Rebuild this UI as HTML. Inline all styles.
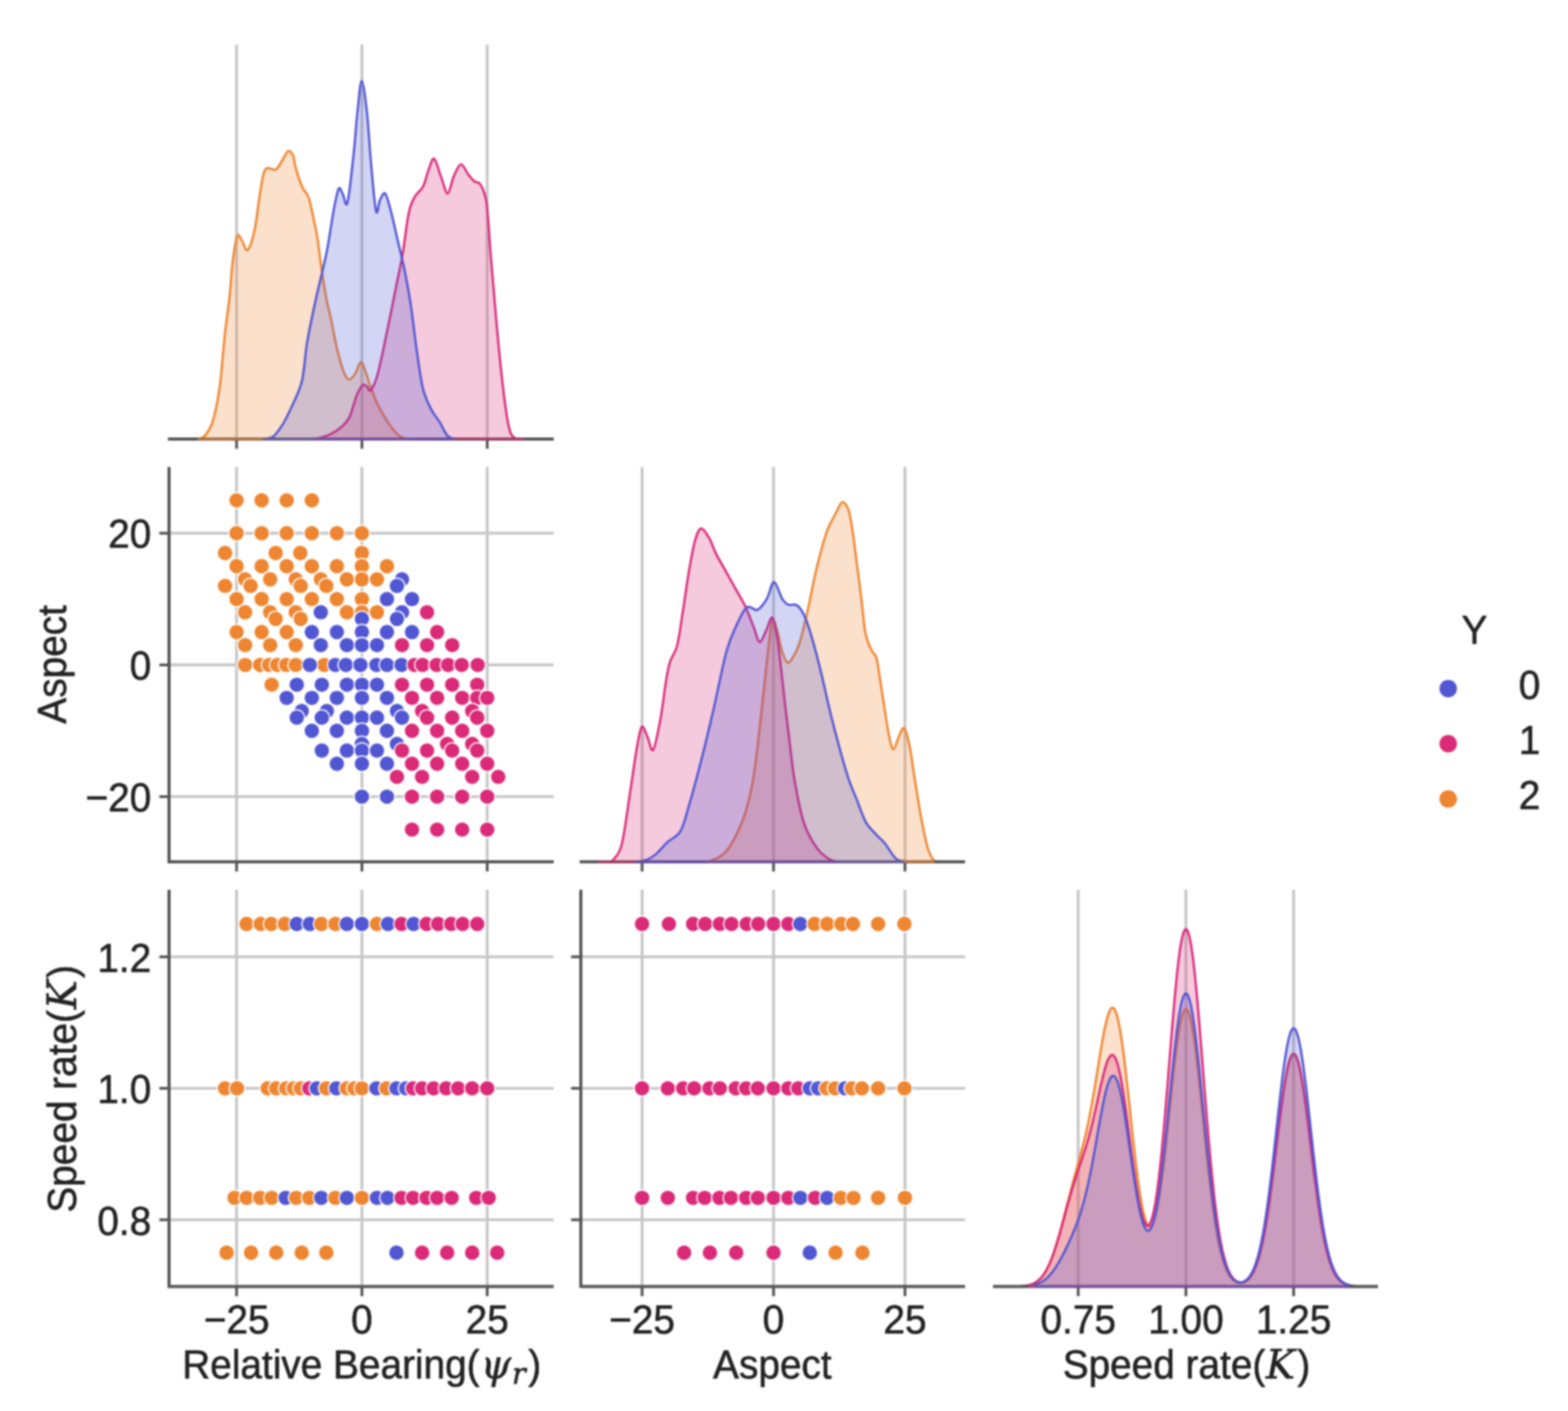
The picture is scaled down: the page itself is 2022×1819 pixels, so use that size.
<!DOCTYPE html>
<html><head><meta charset="utf-8"><title>Pair plot</title>
<style>html,body{margin:0;padding:0;background:#fff;} svg{display:block;filter:blur(1.0px);} text{font-family:'Liberation Sans',Arial,sans-serif;font-size:50px;fill:#222222;stroke:#222222;stroke-width:0.7px;}</style>
</head><body>
<svg width="2022" height="1819" viewBox="0 0 2022 1819">
<rect width="2022" height="1819" fill="#fff"/>
<line x1="305.1" y1="57.5" x2="305.1" y2="566" stroke="#c6c6c6" stroke-width="3.7"/>
<line x1="466.7" y1="57.5" x2="466.7" y2="566" stroke="#c6c6c6" stroke-width="3.7"/>
<line x1="628.3" y1="57.5" x2="628.3" y2="566" stroke="#c6c6c6" stroke-width="3.7"/>
<line x1="305.1" y1="602" x2="305.1" y2="1111" stroke="#c6c6c6" stroke-width="3.7"/>
<line x1="466.7" y1="602" x2="466.7" y2="1111" stroke="#c6c6c6" stroke-width="3.7"/>
<line x1="628.3" y1="602" x2="628.3" y2="1111" stroke="#c6c6c6" stroke-width="3.7"/>
<line x1="305.1" y1="1147" x2="305.1" y2="1658.5" stroke="#c6c6c6" stroke-width="3.7"/>
<line x1="466.7" y1="1147" x2="466.7" y2="1658.5" stroke="#c6c6c6" stroke-width="3.7"/>
<line x1="628.3" y1="1147" x2="628.3" y2="1658.5" stroke="#c6c6c6" stroke-width="3.7"/>
<line x1="828.0" y1="602" x2="828.0" y2="1111" stroke="#c6c6c6" stroke-width="3.7"/>
<line x1="997.5" y1="602" x2="997.5" y2="1111" stroke="#c6c6c6" stroke-width="3.7"/>
<line x1="1167.0" y1="602" x2="1167.0" y2="1111" stroke="#c6c6c6" stroke-width="3.7"/>
<line x1="828.0" y1="1147" x2="828.0" y2="1658.5" stroke="#c6c6c6" stroke-width="3.7"/>
<line x1="997.5" y1="1147" x2="997.5" y2="1658.5" stroke="#c6c6c6" stroke-width="3.7"/>
<line x1="1167.0" y1="1147" x2="1167.0" y2="1658.5" stroke="#c6c6c6" stroke-width="3.7"/>
<line x1="1390.4" y1="1147" x2="1390.4" y2="1658.5" stroke="#c6c6c6" stroke-width="3.7"/>
<line x1="1529.3" y1="1147" x2="1529.3" y2="1658.5" stroke="#c6c6c6" stroke-width="3.7"/>
<line x1="1668.2" y1="1147" x2="1668.2" y2="1658.5" stroke="#c6c6c6" stroke-width="3.7"/>
<line x1="218" y1="687.4" x2="714" y2="687.4" stroke="#c6c6c6" stroke-width="3.7"/>
<line x1="218" y1="857.2" x2="714" y2="857.2" stroke="#c6c6c6" stroke-width="3.7"/>
<line x1="218" y1="1027.0" x2="714" y2="1027.0" stroke="#c6c6c6" stroke-width="3.7"/>
<line x1="218" y1="1233.5" x2="714" y2="1233.5" stroke="#c6c6c6" stroke-width="3.7"/>
<line x1="218" y1="1403.0" x2="714" y2="1403.0" stroke="#c6c6c6" stroke-width="3.7"/>
<line x1="218" y1="1572.5" x2="714" y2="1572.5" stroke="#c6c6c6" stroke-width="3.7"/>
<line x1="749" y1="1233.5" x2="1244.5" y2="1233.5" stroke="#c6c6c6" stroke-width="3.7"/>
<line x1="749" y1="1403.0" x2="1244.5" y2="1403.0" stroke="#c6c6c6" stroke-width="3.7"/>
<line x1="749" y1="1572.5" x2="1244.5" y2="1572.5" stroke="#c6c6c6" stroke-width="3.7"/>
<path d="M256.0,566.0 C257.3,565.3 260.9,565.8 264.0,562.0 C267.1,558.2 271.2,553.7 274.4,543.0 C277.6,532.3 280.8,516.8 283.4,498.0 C286.0,479.2 287.9,449.3 290.0,430.5 C292.1,411.7 294.1,400.8 295.8,385.0 C297.5,369.2 298.6,349.2 300.3,335.8 C302.0,322.4 303.9,308.6 305.9,304.3 C307.8,300.0 309.8,307.0 312.0,310.0 C314.2,313.0 316.6,324.8 319.4,322.3 C322.1,319.8 325.9,307.2 328.5,295.2 C331.1,283.1 332.9,262.8 335.2,250.0 C337.4,237.2 338.6,223.8 342.0,218.6 C345.4,213.4 352.1,220.1 355.5,218.6 C358.9,217.1 359.7,213.5 362.3,209.6 C364.9,205.7 368.7,196.5 371.3,195.0 C373.9,193.5 376.3,197.0 378.0,200.6 C379.7,204.2 379.4,209.7 381.4,216.5 C383.3,223.3 386.9,234.9 389.7,241.2 C392.4,247.5 395.4,247.5 397.9,254.4 C400.4,261.3 402.6,273.6 404.5,282.4 C406.4,291.2 407.8,296.7 409.4,307.1 C411.0,317.5 412.5,331.9 414.4,345.0 C416.3,358.1 418.8,374.2 420.9,385.4 C423.0,396.6 425.1,402.9 427.0,412.0 C428.9,421.1 430.6,431.2 432.5,440.0 C434.4,448.8 436.6,458.0 438.6,465.0 C440.6,472.0 442.4,477.9 444.3,482.0 C446.2,486.1 447.9,489.5 450.2,489.5 C452.5,489.5 455.3,485.7 458.0,482.0 C460.7,478.3 463.2,464.9 466.4,467.3 C469.6,469.7 473.5,487.1 477.0,496.3 C480.5,505.5 483.1,513.9 487.5,522.7 C491.9,531.5 498.5,542.3 503.4,549.0 C508.2,555.7 512.2,560.2 516.6,563.0 C521.0,565.8 527.8,565.5 530.0,566.0 L530.0,566 L256.0,566 Z" fill="#ee8530" fill-opacity="0.25" stroke="none"/>
<path d="M256.0,566.0 C257.3,565.3 260.9,565.8 264.0,562.0 C267.1,558.2 271.2,553.7 274.4,543.0 C277.6,532.3 280.8,516.8 283.4,498.0 C286.0,479.2 287.9,449.3 290.0,430.5 C292.1,411.7 294.1,400.8 295.8,385.0 C297.5,369.2 298.6,349.2 300.3,335.8 C302.0,322.4 303.9,308.6 305.9,304.3 C307.8,300.0 309.8,307.0 312.0,310.0 C314.2,313.0 316.6,324.8 319.4,322.3 C322.1,319.8 325.9,307.2 328.5,295.2 C331.1,283.1 332.9,262.8 335.2,250.0 C337.4,237.2 338.6,223.8 342.0,218.6 C345.4,213.4 352.1,220.1 355.5,218.6 C358.9,217.1 359.7,213.5 362.3,209.6 C364.9,205.7 368.7,196.5 371.3,195.0 C373.9,193.5 376.3,197.0 378.0,200.6 C379.7,204.2 379.4,209.7 381.4,216.5 C383.3,223.3 386.9,234.9 389.7,241.2 C392.4,247.5 395.4,247.5 397.9,254.4 C400.4,261.3 402.6,273.6 404.5,282.4 C406.4,291.2 407.8,296.7 409.4,307.1 C411.0,317.5 412.5,331.9 414.4,345.0 C416.3,358.1 418.8,374.2 420.9,385.4 C423.0,396.6 425.1,402.9 427.0,412.0 C428.9,421.1 430.6,431.2 432.5,440.0 C434.4,448.8 436.6,458.0 438.6,465.0 C440.6,472.0 442.4,477.9 444.3,482.0 C446.2,486.1 447.9,489.5 450.2,489.5 C452.5,489.5 455.3,485.7 458.0,482.0 C460.7,478.3 463.2,464.9 466.4,467.3 C469.6,469.7 473.5,487.1 477.0,496.3 C480.5,505.5 483.1,513.9 487.5,522.7 C491.9,531.5 498.5,542.3 503.4,549.0 C508.2,555.7 512.2,560.2 516.6,563.0 C521.0,565.8 527.8,565.5 530.0,566.0" fill="none" stroke="#ee8530" stroke-width="2.9" stroke-linejoin="round" stroke-linecap="round"/>
<path d="M405.0,566.0 C407.6,565.3 416.2,563.7 420.9,562.0 C425.6,560.3 429.2,558.4 433.0,556.0 C436.8,553.6 440.5,550.6 443.4,547.6 C446.3,544.6 448.5,542.3 450.6,538.0 C452.7,533.7 454.2,527.2 456.0,522.0 C457.8,516.8 459.2,511.3 461.1,507.0 C463.1,502.7 465.7,497.8 467.7,496.3 C469.7,494.8 471.2,496.9 473.0,498.0 C474.8,499.1 475.9,505.9 478.3,503.0 C480.7,500.1 483.8,494.6 487.5,480.7 C491.2,466.8 496.7,438.8 500.7,419.8 C504.7,400.9 508.2,382.4 511.3,367.0 C514.4,351.6 516.6,342.9 519.2,327.5 C521.8,312.1 524.5,287.0 527.1,274.7 C529.7,262.4 531.9,259.3 535.0,253.6 C538.1,247.9 542.5,246.6 545.6,240.4 C548.7,234.2 551.1,222.5 553.5,216.6 C555.9,210.7 557.5,202.6 560.1,204.8 C562.8,207.0 566.5,222.3 569.4,229.8 C572.3,237.3 574.7,250.0 577.3,249.6 C579.9,249.2 582.4,233.5 585.2,227.2 C588.1,220.9 591.3,212.3 594.4,211.9 C597.5,211.5 600.8,220.9 603.7,224.6 C606.6,228.2 609.0,231.6 611.6,233.8 C614.2,236.0 616.9,233.2 619.5,237.8 C622.1,242.4 625.2,246.6 627.4,261.5 C629.6,276.4 630.5,301.1 632.7,327.5 C634.9,353.9 638.0,391.2 640.6,419.8 C643.2,448.4 646.0,476.9 648.6,498.9 C651.2,520.9 653.9,540.7 656.5,551.7 C659.1,562.7 661.3,562.6 664.4,565.0 C667.5,567.4 673.2,565.8 675.0,566.0 L675.0,566 L405.0,566 Z" fill="#da2a78" fill-opacity="0.25" stroke="none"/>
<path d="M405.0,566.0 C407.6,565.3 416.2,563.7 420.9,562.0 C425.6,560.3 429.2,558.4 433.0,556.0 C436.8,553.6 440.5,550.6 443.4,547.6 C446.3,544.6 448.5,542.3 450.6,538.0 C452.7,533.7 454.2,527.2 456.0,522.0 C457.8,516.8 459.2,511.3 461.1,507.0 C463.1,502.7 465.7,497.8 467.7,496.3 C469.7,494.8 471.2,496.9 473.0,498.0 C474.8,499.1 475.9,505.9 478.3,503.0 C480.7,500.1 483.8,494.6 487.5,480.7 C491.2,466.8 496.7,438.8 500.7,419.8 C504.7,400.9 508.2,382.4 511.3,367.0 C514.4,351.6 516.6,342.9 519.2,327.5 C521.8,312.1 524.5,287.0 527.1,274.7 C529.7,262.4 531.9,259.3 535.0,253.6 C538.1,247.9 542.5,246.6 545.6,240.4 C548.7,234.2 551.1,222.5 553.5,216.6 C555.9,210.7 557.5,202.6 560.1,204.8 C562.8,207.0 566.5,222.3 569.4,229.8 C572.3,237.3 574.7,250.0 577.3,249.6 C579.9,249.2 582.4,233.5 585.2,227.2 C588.1,220.9 591.3,212.3 594.4,211.9 C597.5,211.5 600.8,220.9 603.7,224.6 C606.6,228.2 609.0,231.6 611.6,233.8 C614.2,236.0 616.9,233.2 619.5,237.8 C622.1,242.4 625.2,246.6 627.4,261.5 C629.6,276.4 630.5,301.1 632.7,327.5 C634.9,353.9 638.0,391.2 640.6,419.8 C643.2,448.4 646.0,476.9 648.6,498.9 C651.2,520.9 653.9,540.7 656.5,551.7 C659.1,562.7 661.3,562.6 664.4,565.0 C667.5,567.4 673.2,565.8 675.0,566.0" fill="none" stroke="#da2a78" stroke-width="2.9" stroke-linejoin="round" stroke-linecap="round"/>
<path d="M340.0,566.0 C342.0,565.5 348.0,566.0 352.0,563.0 C356.0,560.0 360.0,554.3 364.0,548.0 C368.0,541.7 371.6,534.5 375.8,525.0 C380.0,515.5 385.9,505.2 389.3,491.3 C392.7,477.4 393.0,459.4 396.0,441.7 C399.0,424.0 403.2,404.5 407.4,385.4 C411.5,366.2 417.1,345.6 420.9,326.8 C424.7,308.0 427.4,286.6 430.0,272.7 C432.6,258.8 434.7,247.2 436.7,243.4 C438.7,239.6 440.1,247.0 442.0,250.0 C443.9,253.0 445.7,269.6 448.0,261.4 C450.3,253.2 453.6,220.6 455.8,200.8 C458.0,181.0 459.3,158.9 461.1,142.8 C462.9,126.8 464.4,104.5 466.4,104.5 C468.4,104.5 471.0,125.4 473.0,142.8 C475.0,160.2 476.3,187.2 478.3,208.7 C480.3,230.2 482.9,263.8 484.9,272.0 C486.8,280.2 488.0,261.7 490.0,258.0 C492.0,254.3 494.4,246.8 496.8,249.6 C499.2,252.4 501.9,263.9 504.7,274.7 C507.5,285.5 511.0,302.0 513.9,314.3 C516.8,326.6 519.1,335.4 521.8,348.6 C524.4,361.8 527.1,375.8 529.8,393.4 C532.4,411.0 535.1,436.0 537.7,454.0 C540.3,472.0 542.5,489.3 545.6,501.6 C548.7,513.9 552.7,521.0 556.2,528.0 C559.7,535.0 563.2,538.1 566.7,543.8 C570.2,549.5 573.8,558.3 577.3,562.0 C580.8,565.7 586.2,565.3 588.0,566.0 L588.0,566 L340.0,566 Z" fill="#5156d2" fill-opacity="0.25" stroke="none"/>
<path d="M340.0,566.0 C342.0,565.5 348.0,566.0 352.0,563.0 C356.0,560.0 360.0,554.3 364.0,548.0 C368.0,541.7 371.6,534.5 375.8,525.0 C380.0,515.5 385.9,505.2 389.3,491.3 C392.7,477.4 393.0,459.4 396.0,441.7 C399.0,424.0 403.2,404.5 407.4,385.4 C411.5,366.2 417.1,345.6 420.9,326.8 C424.7,308.0 427.4,286.6 430.0,272.7 C432.6,258.8 434.7,247.2 436.7,243.4 C438.7,239.6 440.1,247.0 442.0,250.0 C443.9,253.0 445.7,269.6 448.0,261.4 C450.3,253.2 453.6,220.6 455.8,200.8 C458.0,181.0 459.3,158.9 461.1,142.8 C462.9,126.8 464.4,104.5 466.4,104.5 C468.4,104.5 471.0,125.4 473.0,142.8 C475.0,160.2 476.3,187.2 478.3,208.7 C480.3,230.2 482.9,263.8 484.9,272.0 C486.8,280.2 488.0,261.7 490.0,258.0 C492.0,254.3 494.4,246.8 496.8,249.6 C499.2,252.4 501.9,263.9 504.7,274.7 C507.5,285.5 511.0,302.0 513.9,314.3 C516.8,326.6 519.1,335.4 521.8,348.6 C524.4,361.8 527.1,375.8 529.8,393.4 C532.4,411.0 535.1,436.0 537.7,454.0 C540.3,472.0 542.5,489.3 545.6,501.6 C548.7,513.9 552.7,521.0 556.2,528.0 C559.7,535.0 563.2,538.1 566.7,543.8 C570.2,549.5 573.8,558.3 577.3,562.0 C580.8,565.7 586.2,565.3 588.0,566.0" fill="none" stroke="#5156d2" stroke-width="2.9" stroke-linejoin="round" stroke-linecap="round"/>
<path d="M912.0,1111.0 C914.2,1110.2 920.8,1108.3 925.0,1106.0 C929.2,1103.7 932.8,1102.2 937.0,1097.0 C941.2,1091.8 945.8,1083.7 950.0,1075.0 C954.2,1066.3 958.3,1057.5 962.0,1045.0 C965.7,1032.5 969.0,1018.3 972.0,1000.0 C975.0,981.7 977.7,955.0 980.0,935.0 C982.3,915.0 984.2,896.7 986.0,880.0 C987.8,863.3 989.3,848.3 991.0,835.0 C992.7,821.7 994.2,803.8 996.0,800.0 C997.8,796.2 1000.0,805.7 1002.0,812.0 C1004.0,818.3 1005.8,831.0 1008.0,838.0 C1010.2,845.0 1012.7,852.3 1015.0,854.0 C1017.3,855.7 1019.3,852.2 1022.0,848.0 C1024.7,843.8 1027.7,839.5 1031.0,829.0 C1034.3,818.5 1038.8,799.2 1042.0,785.0 C1045.2,770.8 1047.7,756.1 1050.5,743.7 C1053.3,731.3 1056.0,720.8 1058.7,710.7 C1061.5,700.6 1063.8,691.5 1067.0,683.2 C1070.2,675.0 1074.8,667.2 1078.0,661.2 C1081.2,655.2 1083.5,648.0 1086.2,647.5 C1089.0,647.0 1092.2,651.6 1094.5,658.5 C1096.8,665.4 1098.2,676.8 1100.0,688.7 C1101.8,700.6 1103.6,715.8 1105.4,730.0 C1107.2,744.2 1109.2,759.4 1111.0,774.0 C1112.8,788.6 1114.1,806.9 1116.4,817.9 C1118.7,828.9 1122.4,834.9 1124.7,839.9 C1127.0,844.9 1128.4,841.2 1130.2,848.1 C1132.0,855.0 1133.9,869.6 1135.7,881.1 C1137.5,892.6 1139.4,905.5 1141.2,916.9 C1143.0,928.3 1144.9,941.6 1146.7,949.8 C1148.5,958.0 1150.2,966.3 1152.2,966.3 C1154.2,966.3 1156.7,954.4 1159.0,949.8 C1161.3,945.2 1163.6,937.0 1165.9,938.8 C1168.2,940.6 1170.5,949.8 1172.8,960.8 C1175.1,971.8 1177.2,989.2 1179.7,1004.8 C1182.2,1020.4 1185.2,1039.6 1187.9,1054.3 C1190.7,1069.0 1193.5,1083.7 1196.2,1092.8 C1199.0,1101.9 1201.4,1106.0 1204.4,1109.0 C1207.4,1112.0 1212.4,1110.7 1214.0,1111.0 L1214.0,1111 L912.0,1111 Z" fill="#ee8530" fill-opacity="0.25" stroke="none"/>
<path d="M912.0,1111.0 C914.2,1110.2 920.8,1108.3 925.0,1106.0 C929.2,1103.7 932.8,1102.2 937.0,1097.0 C941.2,1091.8 945.8,1083.7 950.0,1075.0 C954.2,1066.3 958.3,1057.5 962.0,1045.0 C965.7,1032.5 969.0,1018.3 972.0,1000.0 C975.0,981.7 977.7,955.0 980.0,935.0 C982.3,915.0 984.2,896.7 986.0,880.0 C987.8,863.3 989.3,848.3 991.0,835.0 C992.7,821.7 994.2,803.8 996.0,800.0 C997.8,796.2 1000.0,805.7 1002.0,812.0 C1004.0,818.3 1005.8,831.0 1008.0,838.0 C1010.2,845.0 1012.7,852.3 1015.0,854.0 C1017.3,855.7 1019.3,852.2 1022.0,848.0 C1024.7,843.8 1027.7,839.5 1031.0,829.0 C1034.3,818.5 1038.8,799.2 1042.0,785.0 C1045.2,770.8 1047.7,756.1 1050.5,743.7 C1053.3,731.3 1056.0,720.8 1058.7,710.7 C1061.5,700.6 1063.8,691.5 1067.0,683.2 C1070.2,675.0 1074.8,667.2 1078.0,661.2 C1081.2,655.2 1083.5,648.0 1086.2,647.5 C1089.0,647.0 1092.2,651.6 1094.5,658.5 C1096.8,665.4 1098.2,676.8 1100.0,688.7 C1101.8,700.6 1103.6,715.8 1105.4,730.0 C1107.2,744.2 1109.2,759.4 1111.0,774.0 C1112.8,788.6 1114.1,806.9 1116.4,817.9 C1118.7,828.9 1122.4,834.9 1124.7,839.9 C1127.0,844.9 1128.4,841.2 1130.2,848.1 C1132.0,855.0 1133.9,869.6 1135.7,881.1 C1137.5,892.6 1139.4,905.5 1141.2,916.9 C1143.0,928.3 1144.9,941.6 1146.7,949.8 C1148.5,958.0 1150.2,966.3 1152.2,966.3 C1154.2,966.3 1156.7,954.4 1159.0,949.8 C1161.3,945.2 1163.6,937.0 1165.9,938.8 C1168.2,940.6 1170.5,949.8 1172.8,960.8 C1175.1,971.8 1177.2,989.2 1179.7,1004.8 C1182.2,1020.4 1185.2,1039.6 1187.9,1054.3 C1190.7,1069.0 1193.5,1083.7 1196.2,1092.8 C1199.0,1101.9 1201.4,1106.0 1204.4,1109.0 C1207.4,1112.0 1212.4,1110.7 1214.0,1111.0" fill="none" stroke="#ee8530" stroke-width="2.9" stroke-linejoin="round" stroke-linecap="round"/>
<path d="M785.0,1111.0 C786.0,1110.5 788.3,1111.8 791.1,1108.0 C793.9,1104.2 798.3,1102.6 801.9,1088.0 C805.5,1073.4 809.6,1040.8 812.7,1020.6 C815.9,1000.4 818.3,980.6 820.8,966.7 C823.3,952.8 825.1,939.9 827.5,937.1 C829.9,934.3 832.5,945.1 835.0,950.0 C837.5,954.9 839.5,970.7 842.3,966.7 C845.1,962.8 849.1,940.7 851.8,926.3 C854.5,911.9 856.5,892.6 858.5,880.5 C860.5,868.4 861.4,861.7 863.9,853.6 C866.4,845.5 870.6,842.3 873.3,832.0 C876.0,821.7 877.6,807.3 880.1,791.6 C882.6,775.9 885.5,753.5 888.2,737.8 C890.9,722.1 893.5,706.7 896.2,697.3 C898.9,687.9 901.1,681.6 904.3,681.2 C907.4,680.8 912.0,689.3 915.1,694.7 C918.2,700.1 919.6,706.3 923.2,713.5 C926.8,720.7 932.2,729.7 936.7,737.8 C941.2,745.9 946.2,754.9 950.2,762.0 C954.2,769.1 957.0,773.1 960.6,780.7 C964.2,788.3 968.6,800.0 971.7,807.8 C974.8,815.6 976.7,826.8 979.4,827.7 C982.1,828.6 985.2,818.5 987.9,813.2 C990.6,807.9 993.4,794.9 995.8,796.0 C998.1,797.1 1000.1,809.3 1002.0,820.0 C1003.9,830.7 1005.3,845.8 1007.0,860.0 C1008.7,874.2 1010.2,889.2 1012.0,905.0 C1013.8,920.8 1015.8,937.8 1018.0,955.0 C1020.2,972.2 1021.8,990.2 1025.0,1008.0 C1028.2,1025.8 1032.2,1047.7 1037.0,1062.0 C1041.8,1076.3 1048.5,1086.3 1054.0,1094.0 C1059.5,1101.7 1065.3,1105.2 1070.0,1108.0 C1074.7,1110.8 1080.0,1110.5 1082.0,1111.0 L1082.0,1111 L785.0,1111 Z" fill="#da2a78" fill-opacity="0.25" stroke="none"/>
<path d="M785.0,1111.0 C786.0,1110.5 788.3,1111.8 791.1,1108.0 C793.9,1104.2 798.3,1102.6 801.9,1088.0 C805.5,1073.4 809.6,1040.8 812.7,1020.6 C815.9,1000.4 818.3,980.6 820.8,966.7 C823.3,952.8 825.1,939.9 827.5,937.1 C829.9,934.3 832.5,945.1 835.0,950.0 C837.5,954.9 839.5,970.7 842.3,966.7 C845.1,962.8 849.1,940.7 851.8,926.3 C854.5,911.9 856.5,892.6 858.5,880.5 C860.5,868.4 861.4,861.7 863.9,853.6 C866.4,845.5 870.6,842.3 873.3,832.0 C876.0,821.7 877.6,807.3 880.1,791.6 C882.6,775.9 885.5,753.5 888.2,737.8 C890.9,722.1 893.5,706.7 896.2,697.3 C898.9,687.9 901.1,681.6 904.3,681.2 C907.4,680.8 912.0,689.3 915.1,694.7 C918.2,700.1 919.6,706.3 923.2,713.5 C926.8,720.7 932.2,729.7 936.7,737.8 C941.2,745.9 946.2,754.9 950.2,762.0 C954.2,769.1 957.0,773.1 960.6,780.7 C964.2,788.3 968.6,800.0 971.7,807.8 C974.8,815.6 976.7,826.8 979.4,827.7 C982.1,828.6 985.2,818.5 987.9,813.2 C990.6,807.9 993.4,794.9 995.8,796.0 C998.1,797.1 1000.1,809.3 1002.0,820.0 C1003.9,830.7 1005.3,845.8 1007.0,860.0 C1008.7,874.2 1010.2,889.2 1012.0,905.0 C1013.8,920.8 1015.8,937.8 1018.0,955.0 C1020.2,972.2 1021.8,990.2 1025.0,1008.0 C1028.2,1025.8 1032.2,1047.7 1037.0,1062.0 C1041.8,1076.3 1048.5,1086.3 1054.0,1094.0 C1059.5,1101.7 1065.3,1105.2 1070.0,1108.0 C1074.7,1110.8 1080.0,1110.5 1082.0,1111.0" fill="none" stroke="#da2a78" stroke-width="2.9" stroke-linejoin="round" stroke-linecap="round"/>
<path d="M822.0,1111.0 C824.2,1110.5 831.0,1109.7 835.0,1108.0 C839.0,1106.3 841.6,1104.8 846.0,1101.0 C850.4,1097.2 856.0,1090.2 861.2,1085.3 C866.4,1080.4 872.9,1079.4 877.4,1071.8 C881.9,1064.2 883.7,1054.8 888.2,1039.5 C892.7,1024.2 898.9,1001.3 904.3,980.2 C909.7,959.1 915.1,936.2 920.5,912.9 C925.9,889.5 931.8,858.1 936.7,840.1 C941.7,822.1 945.9,814.5 950.2,805.1 C954.5,795.7 959.0,787.1 962.3,783.6 C965.6,780.1 967.5,783.6 970.0,784.0 C972.5,784.4 974.0,788.0 977.2,786.0 C980.4,784.0 985.5,777.6 989.0,771.7 C992.5,765.8 994.7,750.4 998.0,750.4 C1001.3,750.4 1005.5,766.9 1008.6,771.7 C1011.7,776.6 1013.2,778.0 1016.4,779.5 C1019.6,781.0 1024.4,777.9 1028.0,780.5 C1031.6,783.1 1034.6,787.9 1037.9,795.2 C1041.2,802.5 1044.1,812.1 1047.7,824.5 C1051.3,836.9 1055.5,853.4 1059.4,869.4 C1063.3,885.4 1067.2,904.3 1071.1,920.2 C1075.0,936.1 1078.9,950.9 1082.8,965.0 C1086.7,979.1 1090.7,993.6 1094.5,1004.8 C1098.3,1016.0 1101.8,1023.1 1105.4,1032.3 C1109.1,1041.5 1112.3,1052.5 1116.4,1059.8 C1120.5,1067.1 1126.1,1071.7 1130.2,1076.3 C1134.3,1080.9 1137.1,1082.3 1141.2,1087.3 C1145.3,1092.3 1150.4,1102.5 1154.9,1106.5 C1159.4,1110.5 1165.8,1110.2 1168.0,1111.0 L1168.0,1111 L822.0,1111 Z" fill="#5156d2" fill-opacity="0.25" stroke="none"/>
<path d="M822.0,1111.0 C824.2,1110.5 831.0,1109.7 835.0,1108.0 C839.0,1106.3 841.6,1104.8 846.0,1101.0 C850.4,1097.2 856.0,1090.2 861.2,1085.3 C866.4,1080.4 872.9,1079.4 877.4,1071.8 C881.9,1064.2 883.7,1054.8 888.2,1039.5 C892.7,1024.2 898.9,1001.3 904.3,980.2 C909.7,959.1 915.1,936.2 920.5,912.9 C925.9,889.5 931.8,858.1 936.7,840.1 C941.7,822.1 945.9,814.5 950.2,805.1 C954.5,795.7 959.0,787.1 962.3,783.6 C965.6,780.1 967.5,783.6 970.0,784.0 C972.5,784.4 974.0,788.0 977.2,786.0 C980.4,784.0 985.5,777.6 989.0,771.7 C992.5,765.8 994.7,750.4 998.0,750.4 C1001.3,750.4 1005.5,766.9 1008.6,771.7 C1011.7,776.6 1013.2,778.0 1016.4,779.5 C1019.6,781.0 1024.4,777.9 1028.0,780.5 C1031.6,783.1 1034.6,787.9 1037.9,795.2 C1041.2,802.5 1044.1,812.1 1047.7,824.5 C1051.3,836.9 1055.5,853.4 1059.4,869.4 C1063.3,885.4 1067.2,904.3 1071.1,920.2 C1075.0,936.1 1078.9,950.9 1082.8,965.0 C1086.7,979.1 1090.7,993.6 1094.5,1004.8 C1098.3,1016.0 1101.8,1023.1 1105.4,1032.3 C1109.1,1041.5 1112.3,1052.5 1116.4,1059.8 C1120.5,1067.1 1126.1,1071.7 1130.2,1076.3 C1134.3,1080.9 1137.1,1082.3 1141.2,1087.3 C1145.3,1092.3 1150.4,1102.5 1154.9,1106.5 C1159.4,1110.5 1165.8,1110.2 1168.0,1111.0" fill="none" stroke="#5156d2" stroke-width="2.9" stroke-linejoin="round" stroke-linecap="round"/>
<path d="M1318.0,1658.0 L1320.0,1657.8 L1322.0,1657.5 L1324.0,1657.2 L1326.0,1656.8 L1328.0,1656.3 L1330.0,1655.7 L1332.0,1654.9 L1334.0,1654.0 L1336.0,1652.8 L1338.0,1651.4 L1340.0,1649.7 L1342.0,1647.7 L1344.0,1645.4 L1346.0,1642.6 L1348.0,1639.5 L1350.0,1635.9 L1352.0,1631.9 L1354.0,1627.4 L1356.0,1622.5 L1358.0,1617.0 L1360.0,1611.1 L1362.0,1604.8 L1364.0,1598.1 L1366.0,1591.1 L1368.0,1583.8 L1370.0,1576.3 L1372.0,1568.6 L1374.0,1560.9 L1376.0,1553.2 L1378.0,1545.5 L1380.0,1537.8 L1382.0,1530.3 L1384.0,1522.9 L1386.0,1515.7 L1388.0,1508.4 L1390.0,1501.3 L1392.0,1494.0 L1394.0,1486.7 L1396.0,1479.0 L1398.0,1471.1 L1400.0,1462.7 L1402.0,1453.8 L1404.0,1444.2 L1406.0,1434.1 L1408.0,1423.3 L1410.0,1411.9 L1412.0,1400.1 L1414.0,1387.8 L1416.0,1375.4 L1418.0,1363.0 L1420.0,1350.9 L1422.0,1339.4 L1424.0,1328.8 L1426.0,1319.3 L1428.0,1311.4 L1430.0,1305.2 L1432.0,1301.0 L1434.0,1299.1 L1436.0,1299.5 L1438.0,1302.4 L1440.0,1307.7 L1442.0,1315.5 L1444.0,1325.6 L1446.0,1337.7 L1448.0,1351.8 L1450.0,1367.5 L1452.0,1384.5 L1454.0,1402.4 L1456.0,1420.9 L1458.0,1439.6 L1460.0,1458.3 L1462.0,1476.5 L1464.0,1493.9 L1466.0,1510.3 L1468.0,1525.5 L1470.0,1539.1 L1472.0,1551.1 L1474.0,1561.2 L1476.0,1569.4 L1478.0,1575.6 L1480.0,1579.7 L1482.0,1581.6 L1484.0,1581.3 L1486.0,1578.9 L1488.0,1574.3 L1490.0,1567.6 L1492.0,1558.8 L1494.0,1548.1 L1496.0,1535.5 L1498.0,1521.3 L1500.0,1505.5 L1502.0,1488.5 L1504.0,1470.5 L1506.0,1451.8 L1508.0,1432.6 L1510.0,1413.5 L1512.0,1394.7 L1514.0,1376.7 L1516.0,1359.8 L1518.0,1344.4 L1520.0,1330.8 L1522.0,1319.5 L1524.0,1310.6 L1526.0,1304.4 L1528.0,1301.1 L1530.0,1300.6 L1532.0,1303.2 L1534.0,1308.6 L1536.0,1316.7 L1538.0,1327.4 L1540.0,1340.4 L1542.0,1355.4 L1544.0,1372.1 L1546.0,1390.1 L1548.0,1409.0 L1550.0,1428.5 L1552.0,1448.3 L1554.0,1467.9 L1556.0,1487.1 L1558.0,1505.6 L1560.0,1523.3 L1562.0,1539.9 L1564.0,1555.3 L1566.0,1569.5 L1568.0,1582.3 L1570.0,1593.8 L1572.0,1604.0 L1574.0,1613.0 L1576.0,1620.8 L1578.0,1627.5 L1580.0,1633.2 L1582.0,1638.0 L1584.0,1642.0 L1586.0,1645.3 L1588.0,1647.9 L1590.0,1650.0 L1592.0,1651.6 L1594.0,1652.7 L1596.0,1653.5 L1598.0,1653.9 L1600.0,1654.0 L1602.0,1653.7 L1604.0,1653.1 L1606.0,1652.2 L1608.0,1650.8 L1610.0,1649.0 L1612.0,1646.7 L1614.0,1643.9 L1616.0,1640.4 L1618.0,1636.2 L1620.0,1631.2 L1622.0,1625.4 L1624.0,1618.6 L1626.0,1610.8 L1628.0,1602.0 L1630.0,1592.0 L1632.0,1581.0 L1634.0,1568.9 L1636.0,1555.7 L1638.0,1541.6 L1640.0,1526.6 L1642.0,1510.9 L1644.0,1494.7 L1646.0,1478.2 L1648.0,1461.7 L1650.0,1445.4 L1652.0,1429.7 L1654.0,1414.9 L1656.0,1401.3 L1658.0,1389.1 L1660.0,1378.6 L1662.0,1370.2 L1664.0,1363.9 L1666.0,1360.0 L1668.0,1358.5 L1670.0,1359.5 L1672.0,1362.9 L1674.0,1368.7 L1676.0,1376.8 L1678.0,1386.8 L1680.0,1398.7 L1682.0,1412.1 L1684.0,1426.7 L1686.0,1442.2 L1688.0,1458.4 L1690.0,1474.9 L1692.0,1491.4 L1694.0,1507.7 L1696.0,1523.5 L1698.0,1538.6 L1700.0,1553.0 L1702.0,1566.3 L1704.0,1578.7 L1706.0,1589.9 L1708.0,1600.1 L1710.0,1609.2 L1712.0,1617.2 L1714.0,1624.1 L1716.0,1630.2 L1718.0,1635.4 L1720.0,1639.7 L1722.0,1643.4 L1724.0,1646.5 L1726.0,1649.0 L1728.0,1651.0 L1730.0,1652.7 L1732.0,1654.0 L1734.0,1655.1 L1736.0,1655.9 L1738.0,1656.5 L1740.0,1657.0 L1742.0,1657.4 L1744.0,1657.7 L1746.0,1657.9 L1748.0,1658.1 L1748.0,1658.5 L1318.0,1658.5 Z" fill="#ee8530" fill-opacity="0.25"/>
<path d="M1318.0,1658.0 L1320.0,1657.8 L1322.0,1657.5 L1324.0,1657.2 L1326.0,1656.8 L1328.0,1656.3 L1330.0,1655.7 L1332.0,1654.9 L1334.0,1654.0 L1336.0,1652.8 L1338.0,1651.4 L1340.0,1649.7 L1342.0,1647.7 L1344.0,1645.4 L1346.0,1642.6 L1348.0,1639.5 L1350.0,1635.9 L1352.0,1631.9 L1354.0,1627.4 L1356.0,1622.5 L1358.0,1617.0 L1360.0,1611.1 L1362.0,1604.8 L1364.0,1598.1 L1366.0,1591.1 L1368.0,1583.8 L1370.0,1576.3 L1372.0,1568.6 L1374.0,1560.9 L1376.0,1553.2 L1378.0,1545.5 L1380.0,1537.8 L1382.0,1530.3 L1384.0,1522.9 L1386.0,1515.7 L1388.0,1508.4 L1390.0,1501.3 L1392.0,1494.0 L1394.0,1486.7 L1396.0,1479.0 L1398.0,1471.1 L1400.0,1462.7 L1402.0,1453.8 L1404.0,1444.2 L1406.0,1434.1 L1408.0,1423.3 L1410.0,1411.9 L1412.0,1400.1 L1414.0,1387.8 L1416.0,1375.4 L1418.0,1363.0 L1420.0,1350.9 L1422.0,1339.4 L1424.0,1328.8 L1426.0,1319.3 L1428.0,1311.4 L1430.0,1305.2 L1432.0,1301.0 L1434.0,1299.1 L1436.0,1299.5 L1438.0,1302.4 L1440.0,1307.7 L1442.0,1315.5 L1444.0,1325.6 L1446.0,1337.7 L1448.0,1351.8 L1450.0,1367.5 L1452.0,1384.5 L1454.0,1402.4 L1456.0,1420.9 L1458.0,1439.6 L1460.0,1458.3 L1462.0,1476.5 L1464.0,1493.9 L1466.0,1510.3 L1468.0,1525.5 L1470.0,1539.1 L1472.0,1551.1 L1474.0,1561.2 L1476.0,1569.4 L1478.0,1575.6 L1480.0,1579.7 L1482.0,1581.6 L1484.0,1581.3 L1486.0,1578.9 L1488.0,1574.3 L1490.0,1567.6 L1492.0,1558.8 L1494.0,1548.1 L1496.0,1535.5 L1498.0,1521.3 L1500.0,1505.5 L1502.0,1488.5 L1504.0,1470.5 L1506.0,1451.8 L1508.0,1432.6 L1510.0,1413.5 L1512.0,1394.7 L1514.0,1376.7 L1516.0,1359.8 L1518.0,1344.4 L1520.0,1330.8 L1522.0,1319.5 L1524.0,1310.6 L1526.0,1304.4 L1528.0,1301.1 L1530.0,1300.6 L1532.0,1303.2 L1534.0,1308.6 L1536.0,1316.7 L1538.0,1327.4 L1540.0,1340.4 L1542.0,1355.4 L1544.0,1372.1 L1546.0,1390.1 L1548.0,1409.0 L1550.0,1428.5 L1552.0,1448.3 L1554.0,1467.9 L1556.0,1487.1 L1558.0,1505.6 L1560.0,1523.3 L1562.0,1539.9 L1564.0,1555.3 L1566.0,1569.5 L1568.0,1582.3 L1570.0,1593.8 L1572.0,1604.0 L1574.0,1613.0 L1576.0,1620.8 L1578.0,1627.5 L1580.0,1633.2 L1582.0,1638.0 L1584.0,1642.0 L1586.0,1645.3 L1588.0,1647.9 L1590.0,1650.0 L1592.0,1651.6 L1594.0,1652.7 L1596.0,1653.5 L1598.0,1653.9 L1600.0,1654.0 L1602.0,1653.7 L1604.0,1653.1 L1606.0,1652.2 L1608.0,1650.8 L1610.0,1649.0 L1612.0,1646.7 L1614.0,1643.9 L1616.0,1640.4 L1618.0,1636.2 L1620.0,1631.2 L1622.0,1625.4 L1624.0,1618.6 L1626.0,1610.8 L1628.0,1602.0 L1630.0,1592.0 L1632.0,1581.0 L1634.0,1568.9 L1636.0,1555.7 L1638.0,1541.6 L1640.0,1526.6 L1642.0,1510.9 L1644.0,1494.7 L1646.0,1478.2 L1648.0,1461.7 L1650.0,1445.4 L1652.0,1429.7 L1654.0,1414.9 L1656.0,1401.3 L1658.0,1389.1 L1660.0,1378.6 L1662.0,1370.2 L1664.0,1363.9 L1666.0,1360.0 L1668.0,1358.5 L1670.0,1359.5 L1672.0,1362.9 L1674.0,1368.7 L1676.0,1376.8 L1678.0,1386.8 L1680.0,1398.7 L1682.0,1412.1 L1684.0,1426.7 L1686.0,1442.2 L1688.0,1458.4 L1690.0,1474.9 L1692.0,1491.4 L1694.0,1507.7 L1696.0,1523.5 L1698.0,1538.6 L1700.0,1553.0 L1702.0,1566.3 L1704.0,1578.7 L1706.0,1589.9 L1708.0,1600.1 L1710.0,1609.2 L1712.0,1617.2 L1714.0,1624.1 L1716.0,1630.2 L1718.0,1635.4 L1720.0,1639.7 L1722.0,1643.4 L1724.0,1646.5 L1726.0,1649.0 L1728.0,1651.0 L1730.0,1652.7 L1732.0,1654.0 L1734.0,1655.1 L1736.0,1655.9 L1738.0,1656.5 L1740.0,1657.0 L1742.0,1657.4 L1744.0,1657.7 L1746.0,1657.9 L1748.0,1658.1" fill="none" stroke="#ee8530" stroke-width="2.9" stroke-linejoin="round"/>
<path d="M1318.0,1658.0 L1320.0,1657.8 L1322.0,1657.6 L1324.0,1657.2 L1326.0,1656.9 L1328.0,1656.4 L1330.0,1655.8 L1332.0,1655.0 L1334.0,1654.0 L1336.0,1652.9 L1338.0,1651.5 L1340.0,1649.9 L1342.0,1647.9 L1344.0,1645.6 L1346.0,1642.9 L1348.0,1639.8 L1350.0,1636.3 L1352.0,1632.4 L1354.0,1628.0 L1356.0,1623.1 L1358.0,1617.8 L1360.0,1612.0 L1362.0,1605.9 L1364.0,1599.4 L1366.0,1592.5 L1368.0,1585.5 L1370.0,1578.2 L1372.0,1570.9 L1374.0,1563.5 L1376.0,1556.1 L1378.0,1548.9 L1380.0,1541.8 L1382.0,1535.0 L1384.0,1528.3 L1386.0,1521.9 L1388.0,1515.7 L1390.0,1509.7 L1392.0,1503.8 L1394.0,1497.9 L1396.0,1492.0 L1398.0,1485.9 L1400.0,1479.7 L1402.0,1473.1 L1404.0,1466.1 L1406.0,1458.7 L1408.0,1450.8 L1410.0,1442.5 L1412.0,1433.8 L1414.0,1424.8 L1416.0,1415.6 L1418.0,1406.4 L1420.0,1397.5 L1422.0,1388.9 L1424.0,1381.0 L1426.0,1374.0 L1428.0,1368.2 L1430.0,1363.8 L1432.0,1361.0 L1434.0,1359.9 L1436.0,1360.7 L1438.0,1363.5 L1440.0,1368.2 L1442.0,1374.8 L1444.0,1383.3 L1446.0,1393.5 L1448.0,1405.2 L1450.0,1418.2 L1452.0,1432.2 L1454.0,1446.9 L1456.0,1462.0 L1458.0,1477.3 L1460.0,1492.4 L1462.0,1507.0 L1464.0,1520.9 L1466.0,1533.8 L1468.0,1545.5 L1470.0,1555.8 L1472.0,1564.5 L1474.0,1571.4 L1476.0,1576.3 L1478.0,1579.3 L1480.0,1580.1 L1482.0,1578.7 L1484.0,1575.0 L1486.0,1569.0 L1488.0,1560.6 L1490.0,1549.9 L1492.0,1536.9 L1494.0,1521.7 L1496.0,1504.4 L1498.0,1485.1 L1500.0,1464.1 L1502.0,1441.6 L1504.0,1417.9 L1506.0,1393.4 L1508.0,1368.5 L1510.0,1343.6 L1512.0,1319.3 L1514.0,1295.9 L1516.0,1274.1 L1518.0,1254.2 L1520.0,1236.7 L1522.0,1222.0 L1524.0,1210.6 L1526.0,1202.6 L1528.0,1198.3 L1530.0,1197.7 L1532.0,1200.9 L1534.0,1207.9 L1536.0,1218.4 L1538.0,1232.2 L1540.0,1248.9 L1542.0,1268.3 L1544.0,1289.7 L1546.0,1312.9 L1548.0,1337.3 L1550.0,1362.4 L1552.0,1387.8 L1554.0,1413.0 L1556.0,1437.8 L1558.0,1461.6 L1560.0,1484.4 L1562.0,1505.8 L1564.0,1525.6 L1566.0,1543.8 L1568.0,1560.4 L1570.0,1575.2 L1572.0,1588.4 L1574.0,1600.0 L1576.0,1610.0 L1578.0,1618.7 L1580.0,1626.0 L1582.0,1632.2 L1584.0,1637.3 L1586.0,1641.6 L1588.0,1645.0 L1590.0,1647.7 L1592.0,1649.8 L1594.0,1651.4 L1596.0,1652.5 L1598.0,1653.1 L1600.0,1653.4 L1602.0,1653.3 L1604.0,1652.8 L1606.0,1651.9 L1608.0,1650.6 L1610.0,1648.9 L1612.0,1646.6 L1614.0,1643.8 L1616.0,1640.3 L1618.0,1636.2 L1620.0,1631.2 L1622.0,1625.4 L1624.0,1618.6 L1626.0,1610.8 L1628.0,1602.0 L1630.0,1592.0 L1632.0,1581.0 L1634.0,1568.9 L1636.0,1555.7 L1638.0,1541.6 L1640.0,1526.6 L1642.0,1510.9 L1644.0,1494.7 L1646.0,1478.2 L1648.0,1461.7 L1650.0,1445.4 L1652.0,1429.7 L1654.0,1414.9 L1656.0,1401.3 L1658.0,1389.1 L1660.0,1378.6 L1662.0,1370.2 L1664.0,1363.9 L1666.0,1360.0 L1668.0,1358.5 L1670.0,1359.5 L1672.0,1362.9 L1674.0,1368.7 L1676.0,1376.8 L1678.0,1386.8 L1680.0,1398.7 L1682.0,1412.1 L1684.0,1426.7 L1686.0,1442.2 L1688.0,1458.4 L1690.0,1474.9 L1692.0,1491.4 L1694.0,1507.7 L1696.0,1523.5 L1698.0,1538.6 L1700.0,1553.0 L1702.0,1566.3 L1704.0,1578.7 L1706.0,1589.9 L1708.0,1600.1 L1710.0,1609.2 L1712.0,1617.2 L1714.0,1624.1 L1716.0,1630.2 L1718.0,1635.4 L1720.0,1639.7 L1722.0,1643.4 L1724.0,1646.5 L1726.0,1649.0 L1728.0,1651.0 L1730.0,1652.7 L1732.0,1654.0 L1734.0,1655.1 L1736.0,1655.9 L1738.0,1656.5 L1740.0,1657.0 L1742.0,1657.4 L1744.0,1657.7 L1746.0,1657.9 L1748.0,1658.1 L1748.0,1658.5 L1318.0,1658.5 Z" fill="#da2a78" fill-opacity="0.25"/>
<path d="M1318.0,1658.0 L1320.0,1657.8 L1322.0,1657.6 L1324.0,1657.2 L1326.0,1656.9 L1328.0,1656.4 L1330.0,1655.8 L1332.0,1655.0 L1334.0,1654.0 L1336.0,1652.9 L1338.0,1651.5 L1340.0,1649.9 L1342.0,1647.9 L1344.0,1645.6 L1346.0,1642.9 L1348.0,1639.8 L1350.0,1636.3 L1352.0,1632.4 L1354.0,1628.0 L1356.0,1623.1 L1358.0,1617.8 L1360.0,1612.0 L1362.0,1605.9 L1364.0,1599.4 L1366.0,1592.5 L1368.0,1585.5 L1370.0,1578.2 L1372.0,1570.9 L1374.0,1563.5 L1376.0,1556.1 L1378.0,1548.9 L1380.0,1541.8 L1382.0,1535.0 L1384.0,1528.3 L1386.0,1521.9 L1388.0,1515.7 L1390.0,1509.7 L1392.0,1503.8 L1394.0,1497.9 L1396.0,1492.0 L1398.0,1485.9 L1400.0,1479.7 L1402.0,1473.1 L1404.0,1466.1 L1406.0,1458.7 L1408.0,1450.8 L1410.0,1442.5 L1412.0,1433.8 L1414.0,1424.8 L1416.0,1415.6 L1418.0,1406.4 L1420.0,1397.5 L1422.0,1388.9 L1424.0,1381.0 L1426.0,1374.0 L1428.0,1368.2 L1430.0,1363.8 L1432.0,1361.0 L1434.0,1359.9 L1436.0,1360.7 L1438.0,1363.5 L1440.0,1368.2 L1442.0,1374.8 L1444.0,1383.3 L1446.0,1393.5 L1448.0,1405.2 L1450.0,1418.2 L1452.0,1432.2 L1454.0,1446.9 L1456.0,1462.0 L1458.0,1477.3 L1460.0,1492.4 L1462.0,1507.0 L1464.0,1520.9 L1466.0,1533.8 L1468.0,1545.5 L1470.0,1555.8 L1472.0,1564.5 L1474.0,1571.4 L1476.0,1576.3 L1478.0,1579.3 L1480.0,1580.1 L1482.0,1578.7 L1484.0,1575.0 L1486.0,1569.0 L1488.0,1560.6 L1490.0,1549.9 L1492.0,1536.9 L1494.0,1521.7 L1496.0,1504.4 L1498.0,1485.1 L1500.0,1464.1 L1502.0,1441.6 L1504.0,1417.9 L1506.0,1393.4 L1508.0,1368.5 L1510.0,1343.6 L1512.0,1319.3 L1514.0,1295.9 L1516.0,1274.1 L1518.0,1254.2 L1520.0,1236.7 L1522.0,1222.0 L1524.0,1210.6 L1526.0,1202.6 L1528.0,1198.3 L1530.0,1197.7 L1532.0,1200.9 L1534.0,1207.9 L1536.0,1218.4 L1538.0,1232.2 L1540.0,1248.9 L1542.0,1268.3 L1544.0,1289.7 L1546.0,1312.9 L1548.0,1337.3 L1550.0,1362.4 L1552.0,1387.8 L1554.0,1413.0 L1556.0,1437.8 L1558.0,1461.6 L1560.0,1484.4 L1562.0,1505.8 L1564.0,1525.6 L1566.0,1543.8 L1568.0,1560.4 L1570.0,1575.2 L1572.0,1588.4 L1574.0,1600.0 L1576.0,1610.0 L1578.0,1618.7 L1580.0,1626.0 L1582.0,1632.2 L1584.0,1637.3 L1586.0,1641.6 L1588.0,1645.0 L1590.0,1647.7 L1592.0,1649.8 L1594.0,1651.4 L1596.0,1652.5 L1598.0,1653.1 L1600.0,1653.4 L1602.0,1653.3 L1604.0,1652.8 L1606.0,1651.9 L1608.0,1650.6 L1610.0,1648.9 L1612.0,1646.6 L1614.0,1643.8 L1616.0,1640.3 L1618.0,1636.2 L1620.0,1631.2 L1622.0,1625.4 L1624.0,1618.6 L1626.0,1610.8 L1628.0,1602.0 L1630.0,1592.0 L1632.0,1581.0 L1634.0,1568.9 L1636.0,1555.7 L1638.0,1541.6 L1640.0,1526.6 L1642.0,1510.9 L1644.0,1494.7 L1646.0,1478.2 L1648.0,1461.7 L1650.0,1445.4 L1652.0,1429.7 L1654.0,1414.9 L1656.0,1401.3 L1658.0,1389.1 L1660.0,1378.6 L1662.0,1370.2 L1664.0,1363.9 L1666.0,1360.0 L1668.0,1358.5 L1670.0,1359.5 L1672.0,1362.9 L1674.0,1368.7 L1676.0,1376.8 L1678.0,1386.8 L1680.0,1398.7 L1682.0,1412.1 L1684.0,1426.7 L1686.0,1442.2 L1688.0,1458.4 L1690.0,1474.9 L1692.0,1491.4 L1694.0,1507.7 L1696.0,1523.5 L1698.0,1538.6 L1700.0,1553.0 L1702.0,1566.3 L1704.0,1578.7 L1706.0,1589.9 L1708.0,1600.1 L1710.0,1609.2 L1712.0,1617.2 L1714.0,1624.1 L1716.0,1630.2 L1718.0,1635.4 L1720.0,1639.7 L1722.0,1643.4 L1724.0,1646.5 L1726.0,1649.0 L1728.0,1651.0 L1730.0,1652.7 L1732.0,1654.0 L1734.0,1655.1 L1736.0,1655.9 L1738.0,1656.5 L1740.0,1657.0 L1742.0,1657.4 L1744.0,1657.7 L1746.0,1657.9 L1748.0,1658.1" fill="none" stroke="#da2a78" stroke-width="2.9" stroke-linejoin="round"/>
<path d="M1322.0,1658.0 L1324.0,1657.9 L1326.0,1657.7 L1328.0,1657.4 L1330.0,1657.1 L1332.0,1656.7 L1334.0,1656.3 L1336.0,1655.7 L1338.0,1655.0 L1340.0,1654.2 L1342.0,1653.3 L1344.0,1652.2 L1346.0,1650.9 L1348.0,1649.4 L1350.0,1647.7 L1352.0,1645.8 L1354.0,1643.6 L1356.0,1641.3 L1358.0,1638.7 L1360.0,1635.9 L1362.0,1632.9 L1364.0,1629.6 L1366.0,1626.2 L1368.0,1622.6 L1370.0,1618.9 L1372.0,1615.0 L1374.0,1611.0 L1376.0,1606.8 L1378.0,1602.6 L1380.0,1598.2 L1382.0,1593.6 L1384.0,1588.9 L1386.0,1584.1 L1388.0,1578.9 L1390.0,1573.5 L1392.0,1567.7 L1394.0,1561.6 L1396.0,1554.9 L1398.0,1547.7 L1400.0,1539.9 L1402.0,1531.5 L1404.0,1522.5 L1406.0,1512.9 L1408.0,1502.7 L1410.0,1492.0 L1412.0,1480.9 L1414.0,1469.6 L1416.0,1458.1 L1418.0,1446.8 L1420.0,1435.8 L1422.0,1425.3 L1424.0,1415.7 L1426.0,1407.1 L1428.0,1399.7 L1430.0,1393.9 L1432.0,1389.7 L1434.0,1387.3 L1436.0,1386.8 L1438.0,1388.3 L1440.0,1391.7 L1442.0,1397.0 L1444.0,1404.2 L1446.0,1413.0 L1448.0,1423.3 L1450.0,1434.9 L1452.0,1447.4 L1454.0,1460.8 L1456.0,1474.6 L1458.0,1488.5 L1460.0,1502.4 L1462.0,1515.9 L1464.0,1528.9 L1466.0,1540.9 L1468.0,1551.9 L1470.0,1561.7 L1472.0,1570.1 L1474.0,1576.9 L1476.0,1582.0 L1478.0,1585.3 L1480.0,1586.8 L1482.0,1586.4 L1484.0,1584.0 L1486.0,1579.6 L1488.0,1573.2 L1490.0,1564.8 L1492.0,1554.4 L1494.0,1542.3 L1496.0,1528.3 L1498.0,1512.7 L1500.0,1495.7 L1502.0,1477.5 L1504.0,1458.4 L1506.0,1438.6 L1508.0,1418.4 L1510.0,1398.3 L1512.0,1378.6 L1514.0,1359.8 L1516.0,1342.1 L1518.0,1326.1 L1520.0,1312.0 L1522.0,1300.2 L1524.0,1291.0 L1526.0,1284.6 L1528.0,1281.1 L1530.0,1280.6 L1532.0,1283.3 L1534.0,1288.9 L1536.0,1297.3 L1538.0,1308.4 L1540.0,1321.9 L1542.0,1337.6 L1544.0,1354.9 L1546.0,1373.7 L1548.0,1393.4 L1550.0,1413.8 L1552.0,1434.4 L1554.0,1454.9 L1556.0,1475.1 L1558.0,1494.6 L1560.0,1513.2 L1562.0,1530.7 L1564.0,1547.1 L1566.0,1562.1 L1568.0,1575.8 L1570.0,1588.1 L1572.0,1599.0 L1574.0,1608.7 L1576.0,1617.1 L1578.0,1624.3 L1580.0,1630.5 L1582.0,1635.7 L1584.0,1640.1 L1586.0,1643.7 L1588.0,1646.5 L1590.0,1648.8 L1592.0,1650.6 L1594.0,1651.8 L1596.0,1652.7 L1598.0,1653.1 L1600.0,1653.2 L1602.0,1652.8 L1604.0,1652.1 L1606.0,1651.0 L1608.0,1649.4 L1610.0,1647.3 L1612.0,1644.6 L1614.0,1641.3 L1616.0,1637.3 L1618.0,1632.5 L1620.0,1626.9 L1622.0,1620.2 L1624.0,1612.6 L1626.0,1603.8 L1628.0,1593.9 L1630.0,1582.7 L1632.0,1570.4 L1634.0,1556.8 L1636.0,1542.2 L1638.0,1526.5 L1640.0,1509.9 L1642.0,1492.5 L1644.0,1474.7 L1646.0,1456.5 L1648.0,1438.4 L1650.0,1420.5 L1652.0,1403.3 L1654.0,1387.1 L1656.0,1372.2 L1658.0,1358.9 L1660.0,1347.5 L1662.0,1338.2 L1664.0,1331.4 L1666.0,1327.1 L1668.0,1325.5 L1670.0,1326.6 L1672.0,1330.3 L1674.0,1336.7 L1676.0,1345.4 L1678.0,1356.4 L1680.0,1369.4 L1682.0,1384.0 L1684.0,1400.0 L1686.0,1417.0 L1688.0,1434.8 L1690.0,1452.9 L1692.0,1471.1 L1694.0,1489.0 L1696.0,1506.5 L1698.0,1523.2 L1700.0,1539.1 L1702.0,1554.0 L1704.0,1567.8 L1706.0,1580.4 L1708.0,1591.7 L1710.0,1601.9 L1712.0,1610.9 L1714.0,1618.9 L1716.0,1625.7 L1718.0,1631.6 L1720.0,1636.6 L1722.0,1640.8 L1724.0,1644.4 L1726.0,1647.3 L1728.0,1649.7 L1730.0,1651.6 L1732.0,1653.1 L1734.0,1654.4 L1736.0,1655.4 L1738.0,1656.1 L1740.0,1656.7 L1742.0,1657.2 L1744.0,1657.5 L1746.0,1657.8 L1748.0,1658.0 L1748.0,1658.5 L1322.0,1658.5 Z" fill="#5156d2" fill-opacity="0.25"/>
<path d="M1322.0,1658.0 L1324.0,1657.9 L1326.0,1657.7 L1328.0,1657.4 L1330.0,1657.1 L1332.0,1656.7 L1334.0,1656.3 L1336.0,1655.7 L1338.0,1655.0 L1340.0,1654.2 L1342.0,1653.3 L1344.0,1652.2 L1346.0,1650.9 L1348.0,1649.4 L1350.0,1647.7 L1352.0,1645.8 L1354.0,1643.6 L1356.0,1641.3 L1358.0,1638.7 L1360.0,1635.9 L1362.0,1632.9 L1364.0,1629.6 L1366.0,1626.2 L1368.0,1622.6 L1370.0,1618.9 L1372.0,1615.0 L1374.0,1611.0 L1376.0,1606.8 L1378.0,1602.6 L1380.0,1598.2 L1382.0,1593.6 L1384.0,1588.9 L1386.0,1584.1 L1388.0,1578.9 L1390.0,1573.5 L1392.0,1567.7 L1394.0,1561.6 L1396.0,1554.9 L1398.0,1547.7 L1400.0,1539.9 L1402.0,1531.5 L1404.0,1522.5 L1406.0,1512.9 L1408.0,1502.7 L1410.0,1492.0 L1412.0,1480.9 L1414.0,1469.6 L1416.0,1458.1 L1418.0,1446.8 L1420.0,1435.8 L1422.0,1425.3 L1424.0,1415.7 L1426.0,1407.1 L1428.0,1399.7 L1430.0,1393.9 L1432.0,1389.7 L1434.0,1387.3 L1436.0,1386.8 L1438.0,1388.3 L1440.0,1391.7 L1442.0,1397.0 L1444.0,1404.2 L1446.0,1413.0 L1448.0,1423.3 L1450.0,1434.9 L1452.0,1447.4 L1454.0,1460.8 L1456.0,1474.6 L1458.0,1488.5 L1460.0,1502.4 L1462.0,1515.9 L1464.0,1528.9 L1466.0,1540.9 L1468.0,1551.9 L1470.0,1561.7 L1472.0,1570.1 L1474.0,1576.9 L1476.0,1582.0 L1478.0,1585.3 L1480.0,1586.8 L1482.0,1586.4 L1484.0,1584.0 L1486.0,1579.6 L1488.0,1573.2 L1490.0,1564.8 L1492.0,1554.4 L1494.0,1542.3 L1496.0,1528.3 L1498.0,1512.7 L1500.0,1495.7 L1502.0,1477.5 L1504.0,1458.4 L1506.0,1438.6 L1508.0,1418.4 L1510.0,1398.3 L1512.0,1378.6 L1514.0,1359.8 L1516.0,1342.1 L1518.0,1326.1 L1520.0,1312.0 L1522.0,1300.2 L1524.0,1291.0 L1526.0,1284.6 L1528.0,1281.1 L1530.0,1280.6 L1532.0,1283.3 L1534.0,1288.9 L1536.0,1297.3 L1538.0,1308.4 L1540.0,1321.9 L1542.0,1337.6 L1544.0,1354.9 L1546.0,1373.7 L1548.0,1393.4 L1550.0,1413.8 L1552.0,1434.4 L1554.0,1454.9 L1556.0,1475.1 L1558.0,1494.6 L1560.0,1513.2 L1562.0,1530.7 L1564.0,1547.1 L1566.0,1562.1 L1568.0,1575.8 L1570.0,1588.1 L1572.0,1599.0 L1574.0,1608.7 L1576.0,1617.1 L1578.0,1624.3 L1580.0,1630.5 L1582.0,1635.7 L1584.0,1640.1 L1586.0,1643.7 L1588.0,1646.5 L1590.0,1648.8 L1592.0,1650.6 L1594.0,1651.8 L1596.0,1652.7 L1598.0,1653.1 L1600.0,1653.2 L1602.0,1652.8 L1604.0,1652.1 L1606.0,1651.0 L1608.0,1649.4 L1610.0,1647.3 L1612.0,1644.6 L1614.0,1641.3 L1616.0,1637.3 L1618.0,1632.5 L1620.0,1626.9 L1622.0,1620.2 L1624.0,1612.6 L1626.0,1603.8 L1628.0,1593.9 L1630.0,1582.7 L1632.0,1570.4 L1634.0,1556.8 L1636.0,1542.2 L1638.0,1526.5 L1640.0,1509.9 L1642.0,1492.5 L1644.0,1474.7 L1646.0,1456.5 L1648.0,1438.4 L1650.0,1420.5 L1652.0,1403.3 L1654.0,1387.1 L1656.0,1372.2 L1658.0,1358.9 L1660.0,1347.5 L1662.0,1338.2 L1664.0,1331.4 L1666.0,1327.1 L1668.0,1325.5 L1670.0,1326.6 L1672.0,1330.3 L1674.0,1336.7 L1676.0,1345.4 L1678.0,1356.4 L1680.0,1369.4 L1682.0,1384.0 L1684.0,1400.0 L1686.0,1417.0 L1688.0,1434.8 L1690.0,1452.9 L1692.0,1471.1 L1694.0,1489.0 L1696.0,1506.5 L1698.0,1523.2 L1700.0,1539.1 L1702.0,1554.0 L1704.0,1567.8 L1706.0,1580.4 L1708.0,1591.7 L1710.0,1601.9 L1712.0,1610.9 L1714.0,1618.9 L1716.0,1625.7 L1718.0,1631.6 L1720.0,1636.6 L1722.0,1640.8 L1724.0,1644.4 L1726.0,1647.3 L1728.0,1649.7 L1730.0,1651.6 L1732.0,1653.1 L1734.0,1654.4 L1736.0,1655.4 L1738.0,1656.1 L1740.0,1656.7 L1742.0,1657.2 L1744.0,1657.5 L1746.0,1657.8 L1748.0,1658.0" fill="none" stroke="#5156d2" stroke-width="2.9" stroke-linejoin="round"/>
<circle cx="305.1" cy="645.0" r="10.1" fill="#ee8530" stroke="#fff" stroke-width="1.6"/>
<circle cx="337.4" cy="645.0" r="10.1" fill="#ee8530" stroke="#fff" stroke-width="1.6"/>
<circle cx="369.7" cy="645.0" r="10.1" fill="#ee8530" stroke="#fff" stroke-width="1.6"/>
<circle cx="402.1" cy="645.0" r="10.1" fill="#ee8530" stroke="#fff" stroke-width="1.6"/>
<circle cx="305.1" cy="687.4" r="10.1" fill="#ee8530" stroke="#fff" stroke-width="1.6"/>
<circle cx="337.4" cy="687.4" r="10.1" fill="#ee8530" stroke="#fff" stroke-width="1.6"/>
<circle cx="369.7" cy="687.4" r="10.1" fill="#ee8530" stroke="#fff" stroke-width="1.6"/>
<circle cx="402.1" cy="687.4" r="10.1" fill="#ee8530" stroke="#fff" stroke-width="1.6"/>
<circle cx="434.4" cy="687.4" r="10.1" fill="#ee8530" stroke="#fff" stroke-width="1.6"/>
<circle cx="466.7" cy="687.4" r="10.1" fill="#ee8530" stroke="#fff" stroke-width="1.6"/>
<circle cx="290.2" cy="712.9" r="10.1" fill="#ee8530" stroke="#fff" stroke-width="1.6"/>
<circle cx="355.5" cy="712.9" r="10.1" fill="#ee8530" stroke="#fff" stroke-width="1.6"/>
<circle cx="387.2" cy="712.9" r="10.1" fill="#ee8530" stroke="#fff" stroke-width="1.6"/>
<circle cx="466.7" cy="712.9" r="10.1" fill="#ee8530" stroke="#fff" stroke-width="1.6"/>
<circle cx="305.1" cy="729.9" r="10.1" fill="#ee8530" stroke="#fff" stroke-width="1.6"/>
<circle cx="337.4" cy="729.9" r="10.1" fill="#ee8530" stroke="#fff" stroke-width="1.6"/>
<circle cx="369.7" cy="729.9" r="10.1" fill="#ee8530" stroke="#fff" stroke-width="1.6"/>
<circle cx="402.1" cy="729.9" r="10.1" fill="#ee8530" stroke="#fff" stroke-width="1.6"/>
<circle cx="434.4" cy="729.9" r="10.1" fill="#ee8530" stroke="#fff" stroke-width="1.6"/>
<circle cx="466.7" cy="729.9" r="10.1" fill="#ee8530" stroke="#fff" stroke-width="1.6"/>
<circle cx="499.0" cy="729.9" r="10.1" fill="#ee8530" stroke="#fff" stroke-width="1.6"/>
<circle cx="316.1" cy="746.8" r="10.1" fill="#ee8530" stroke="#fff" stroke-width="1.6"/>
<circle cx="348.4" cy="746.8" r="10.1" fill="#ee8530" stroke="#fff" stroke-width="1.6"/>
<circle cx="381.4" cy="746.8" r="10.1" fill="#ee8530" stroke="#fff" stroke-width="1.6"/>
<circle cx="413.7" cy="746.8" r="10.1" fill="#ee8530" stroke="#fff" stroke-width="1.6"/>
<circle cx="447.3" cy="746.8" r="10.1" fill="#ee8530" stroke="#fff" stroke-width="1.6"/>
<circle cx="466.7" cy="746.8" r="10.1" fill="#ee8530" stroke="#fff" stroke-width="1.6"/>
<circle cx="486.1" cy="746.8" r="10.1" fill="#ee8530" stroke="#fff" stroke-width="1.6"/>
<circle cx="518.4" cy="746.8" r="10.1" fill="#5156d2" stroke="#fff" stroke-width="1.6"/>
<circle cx="290.2" cy="755.3" r="10.1" fill="#ee8530" stroke="#fff" stroke-width="1.6"/>
<circle cx="323.2" cy="755.3" r="10.1" fill="#ee8530" stroke="#fff" stroke-width="1.6"/>
<circle cx="387.8" cy="755.3" r="10.1" fill="#ee8530" stroke="#fff" stroke-width="1.6"/>
<circle cx="420.8" cy="755.3" r="10.1" fill="#ee8530" stroke="#fff" stroke-width="1.6"/>
<circle cx="511.9" cy="755.3" r="10.1" fill="#5156d2" stroke="#fff" stroke-width="1.6"/>
<circle cx="305.1" cy="772.3" r="10.1" fill="#ee8530" stroke="#fff" stroke-width="1.6"/>
<circle cx="337.4" cy="772.3" r="10.1" fill="#ee8530" stroke="#fff" stroke-width="1.6"/>
<circle cx="369.7" cy="772.3" r="10.1" fill="#ee8530" stroke="#fff" stroke-width="1.6"/>
<circle cx="402.1" cy="772.3" r="10.1" fill="#ee8530" stroke="#fff" stroke-width="1.6"/>
<circle cx="434.4" cy="772.3" r="10.1" fill="#ee8530" stroke="#fff" stroke-width="1.6"/>
<circle cx="466.7" cy="772.3" r="10.1" fill="#ee8530" stroke="#fff" stroke-width="1.6"/>
<circle cx="499.0" cy="772.3" r="10.1" fill="#5156d2" stroke="#fff" stroke-width="1.6"/>
<circle cx="531.3" cy="772.3" r="10.1" fill="#5156d2" stroke="#fff" stroke-width="1.6"/>
<circle cx="316.1" cy="789.3" r="10.1" fill="#ee8530" stroke="#fff" stroke-width="1.6"/>
<circle cx="348.4" cy="789.3" r="10.1" fill="#ee8530" stroke="#fff" stroke-width="1.6"/>
<circle cx="381.4" cy="789.3" r="10.1" fill="#ee8530" stroke="#fff" stroke-width="1.6"/>
<circle cx="447.3" cy="789.3" r="10.1" fill="#ee8530" stroke="#fff" stroke-width="1.6"/>
<circle cx="466.7" cy="789.3" r="10.1" fill="#ee8530" stroke="#fff" stroke-width="1.6"/>
<circle cx="486.1" cy="789.3" r="10.1" fill="#ee8530" stroke="#fff" stroke-width="1.6"/>
<circle cx="413.7" cy="789.3" r="10.1" fill="#5156d2" stroke="#fff" stroke-width="1.6"/>
<circle cx="518.4" cy="789.3" r="10.1" fill="#5156d2" stroke="#fff" stroke-width="1.6"/>
<circle cx="550.7" cy="789.3" r="10.1" fill="#da2a78" stroke="#fff" stroke-width="1.6"/>
<circle cx="355.5" cy="797.8" r="10.1" fill="#ee8530" stroke="#fff" stroke-width="1.6"/>
<circle cx="387.8" cy="797.8" r="10.1" fill="#ee8530" stroke="#fff" stroke-width="1.6"/>
<circle cx="466.7" cy="797.8" r="10.1" fill="#5156d2" stroke="#fff" stroke-width="1.6"/>
<circle cx="511.9" cy="797.8" r="10.1" fill="#5156d2" stroke="#fff" stroke-width="1.6"/>
<circle cx="305.1" cy="814.8" r="10.1" fill="#ee8530" stroke="#fff" stroke-width="1.6"/>
<circle cx="337.4" cy="814.8" r="10.1" fill="#ee8530" stroke="#fff" stroke-width="1.6"/>
<circle cx="369.7" cy="814.8" r="10.1" fill="#ee8530" stroke="#fff" stroke-width="1.6"/>
<circle cx="402.1" cy="814.8" r="10.1" fill="#5156d2" stroke="#fff" stroke-width="1.6"/>
<circle cx="434.4" cy="814.8" r="10.1" fill="#5156d2" stroke="#fff" stroke-width="1.6"/>
<circle cx="466.7" cy="814.8" r="10.1" fill="#5156d2" stroke="#fff" stroke-width="1.6"/>
<circle cx="499.0" cy="814.8" r="10.1" fill="#5156d2" stroke="#fff" stroke-width="1.6"/>
<circle cx="531.3" cy="814.8" r="10.1" fill="#5156d2" stroke="#fff" stroke-width="1.6"/>
<circle cx="563.7" cy="814.8" r="10.1" fill="#da2a78" stroke="#fff" stroke-width="1.6"/>
<circle cx="316.1" cy="831.7" r="10.1" fill="#ee8530" stroke="#fff" stroke-width="1.6"/>
<circle cx="348.4" cy="831.7" r="10.1" fill="#ee8530" stroke="#fff" stroke-width="1.6"/>
<circle cx="381.4" cy="831.7" r="10.1" fill="#ee8530" stroke="#fff" stroke-width="1.6"/>
<circle cx="413.7" cy="831.7" r="10.1" fill="#5156d2" stroke="#fff" stroke-width="1.6"/>
<circle cx="447.3" cy="831.7" r="10.1" fill="#5156d2" stroke="#fff" stroke-width="1.6"/>
<circle cx="466.7" cy="831.7" r="10.1" fill="#5156d2" stroke="#fff" stroke-width="1.6"/>
<circle cx="486.1" cy="831.7" r="10.1" fill="#5156d2" stroke="#fff" stroke-width="1.6"/>
<circle cx="518.4" cy="831.7" r="10.1" fill="#da2a78" stroke="#fff" stroke-width="1.6"/>
<circle cx="550.7" cy="831.7" r="10.1" fill="#da2a78" stroke="#fff" stroke-width="1.6"/>
<circle cx="583.1" cy="831.7" r="10.1" fill="#da2a78" stroke="#fff" stroke-width="1.6"/>
<circle cx="316.1" cy="857.2" r="10.1" fill="#ee8530" stroke="#fff" stroke-width="1.6"/>
<circle cx="335.5" cy="857.2" r="10.1" fill="#ee8530" stroke="#fff" stroke-width="1.6"/>
<circle cx="347.1" cy="857.2" r="10.1" fill="#ee8530" stroke="#fff" stroke-width="1.6"/>
<circle cx="357.5" cy="857.2" r="10.1" fill="#ee8530" stroke="#fff" stroke-width="1.6"/>
<circle cx="369.1" cy="857.2" r="10.1" fill="#ee8530" stroke="#fff" stroke-width="1.6"/>
<circle cx="381.4" cy="857.2" r="10.1" fill="#ee8530" stroke="#fff" stroke-width="1.6"/>
<circle cx="418.2" cy="857.2" r="10.1" fill="#ee8530" stroke="#fff" stroke-width="1.6"/>
<circle cx="399.5" cy="857.2" r="10.1" fill="#5156d2" stroke="#fff" stroke-width="1.6"/>
<circle cx="432.4" cy="857.2" r="10.1" fill="#5156d2" stroke="#fff" stroke-width="1.6"/>
<circle cx="446.0" cy="857.2" r="10.1" fill="#5156d2" stroke="#fff" stroke-width="1.6"/>
<circle cx="464.8" cy="857.2" r="10.1" fill="#5156d2" stroke="#fff" stroke-width="1.6"/>
<circle cx="485.4" cy="857.2" r="10.1" fill="#5156d2" stroke="#fff" stroke-width="1.6"/>
<circle cx="499.0" cy="857.2" r="10.1" fill="#5156d2" stroke="#fff" stroke-width="1.6"/>
<circle cx="517.8" cy="857.2" r="10.1" fill="#5156d2" stroke="#fff" stroke-width="1.6"/>
<circle cx="534.6" cy="857.2" r="10.1" fill="#da2a78" stroke="#fff" stroke-width="1.6"/>
<circle cx="544.9" cy="857.2" r="10.1" fill="#da2a78" stroke="#fff" stroke-width="1.6"/>
<circle cx="563.0" cy="857.2" r="10.1" fill="#da2a78" stroke="#fff" stroke-width="1.6"/>
<circle cx="577.9" cy="857.2" r="10.1" fill="#da2a78" stroke="#fff" stroke-width="1.6"/>
<circle cx="595.3" cy="857.2" r="10.1" fill="#da2a78" stroke="#fff" stroke-width="1.6"/>
<circle cx="616.0" cy="857.2" r="10.1" fill="#da2a78" stroke="#fff" stroke-width="1.6"/>
<circle cx="350.3" cy="882.7" r="10.1" fill="#ee8530" stroke="#fff" stroke-width="1.6"/>
<circle cx="382.7" cy="882.7" r="10.1" fill="#5156d2" stroke="#fff" stroke-width="1.6"/>
<circle cx="415.0" cy="882.7" r="10.1" fill="#5156d2" stroke="#fff" stroke-width="1.6"/>
<circle cx="447.3" cy="882.7" r="10.1" fill="#5156d2" stroke="#fff" stroke-width="1.6"/>
<circle cx="466.7" cy="882.7" r="10.1" fill="#5156d2" stroke="#fff" stroke-width="1.6"/>
<circle cx="486.1" cy="882.7" r="10.1" fill="#5156d2" stroke="#fff" stroke-width="1.6"/>
<circle cx="518.4" cy="882.7" r="10.1" fill="#da2a78" stroke="#fff" stroke-width="1.6"/>
<circle cx="550.7" cy="882.7" r="10.1" fill="#da2a78" stroke="#fff" stroke-width="1.6"/>
<circle cx="583.1" cy="882.7" r="10.1" fill="#da2a78" stroke="#fff" stroke-width="1.6"/>
<circle cx="615.4" cy="882.7" r="10.1" fill="#da2a78" stroke="#fff" stroke-width="1.6"/>
<circle cx="369.7" cy="899.7" r="10.1" fill="#5156d2" stroke="#fff" stroke-width="1.6"/>
<circle cx="402.1" cy="899.7" r="10.1" fill="#5156d2" stroke="#fff" stroke-width="1.6"/>
<circle cx="434.4" cy="899.7" r="10.1" fill="#5156d2" stroke="#fff" stroke-width="1.6"/>
<circle cx="466.7" cy="899.7" r="10.1" fill="#5156d2" stroke="#fff" stroke-width="1.6"/>
<circle cx="499.0" cy="899.7" r="10.1" fill="#5156d2" stroke="#fff" stroke-width="1.6"/>
<circle cx="531.3" cy="899.7" r="10.1" fill="#da2a78" stroke="#fff" stroke-width="1.6"/>
<circle cx="563.7" cy="899.7" r="10.1" fill="#da2a78" stroke="#fff" stroke-width="1.6"/>
<circle cx="596.0" cy="899.7" r="10.1" fill="#da2a78" stroke="#fff" stroke-width="1.6"/>
<circle cx="615.4" cy="899.7" r="10.1" fill="#da2a78" stroke="#fff" stroke-width="1.6"/>
<circle cx="628.3" cy="899.7" r="10.1" fill="#da2a78" stroke="#fff" stroke-width="1.6"/>
<circle cx="389.1" cy="916.6" r="10.1" fill="#5156d2" stroke="#fff" stroke-width="1.6"/>
<circle cx="421.5" cy="916.6" r="10.1" fill="#5156d2" stroke="#fff" stroke-width="1.6"/>
<circle cx="511.9" cy="916.6" r="10.1" fill="#5156d2" stroke="#fff" stroke-width="1.6"/>
<circle cx="544.3" cy="916.6" r="10.1" fill="#da2a78" stroke="#fff" stroke-width="1.6"/>
<circle cx="608.9" cy="916.6" r="10.1" fill="#da2a78" stroke="#fff" stroke-width="1.6"/>
<circle cx="382.7" cy="925.1" r="10.1" fill="#5156d2" stroke="#fff" stroke-width="1.6"/>
<circle cx="415.0" cy="925.1" r="10.1" fill="#5156d2" stroke="#fff" stroke-width="1.6"/>
<circle cx="447.3" cy="925.1" r="10.1" fill="#5156d2" stroke="#fff" stroke-width="1.6"/>
<circle cx="466.7" cy="925.1" r="10.1" fill="#5156d2" stroke="#fff" stroke-width="1.6"/>
<circle cx="486.1" cy="925.1" r="10.1" fill="#5156d2" stroke="#fff" stroke-width="1.6"/>
<circle cx="518.4" cy="925.1" r="10.1" fill="#5156d2" stroke="#fff" stroke-width="1.6"/>
<circle cx="550.7" cy="925.1" r="10.1" fill="#da2a78" stroke="#fff" stroke-width="1.6"/>
<circle cx="583.1" cy="925.1" r="10.1" fill="#da2a78" stroke="#fff" stroke-width="1.6"/>
<circle cx="615.4" cy="925.1" r="10.1" fill="#da2a78" stroke="#fff" stroke-width="1.6"/>
<circle cx="402.1" cy="942.1" r="10.1" fill="#5156d2" stroke="#fff" stroke-width="1.6"/>
<circle cx="434.4" cy="942.1" r="10.1" fill="#5156d2" stroke="#fff" stroke-width="1.6"/>
<circle cx="466.7" cy="942.1" r="10.1" fill="#5156d2" stroke="#fff" stroke-width="1.6"/>
<circle cx="499.0" cy="942.1" r="10.1" fill="#5156d2" stroke="#fff" stroke-width="1.6"/>
<circle cx="531.3" cy="942.1" r="10.1" fill="#da2a78" stroke="#fff" stroke-width="1.6"/>
<circle cx="563.7" cy="942.1" r="10.1" fill="#da2a78" stroke="#fff" stroke-width="1.6"/>
<circle cx="596.0" cy="942.1" r="10.1" fill="#da2a78" stroke="#fff" stroke-width="1.6"/>
<circle cx="628.3" cy="942.1" r="10.1" fill="#da2a78" stroke="#fff" stroke-width="1.6"/>
<circle cx="466.7" cy="959.1" r="10.1" fill="#5156d2" stroke="#fff" stroke-width="1.6"/>
<circle cx="511.9" cy="959.1" r="10.1" fill="#5156d2" stroke="#fff" stroke-width="1.6"/>
<circle cx="576.6" cy="959.1" r="10.1" fill="#da2a78" stroke="#fff" stroke-width="1.6"/>
<circle cx="608.9" cy="959.1" r="10.1" fill="#da2a78" stroke="#fff" stroke-width="1.6"/>
<circle cx="415.0" cy="967.6" r="10.1" fill="#5156d2" stroke="#fff" stroke-width="1.6"/>
<circle cx="447.3" cy="967.6" r="10.1" fill="#5156d2" stroke="#fff" stroke-width="1.6"/>
<circle cx="466.7" cy="967.6" r="10.1" fill="#5156d2" stroke="#fff" stroke-width="1.6"/>
<circle cx="486.1" cy="967.6" r="10.1" fill="#5156d2" stroke="#fff" stroke-width="1.6"/>
<circle cx="518.4" cy="967.6" r="10.1" fill="#da2a78" stroke="#fff" stroke-width="1.6"/>
<circle cx="550.7" cy="967.6" r="10.1" fill="#da2a78" stroke="#fff" stroke-width="1.6"/>
<circle cx="583.1" cy="967.6" r="10.1" fill="#da2a78" stroke="#fff" stroke-width="1.6"/>
<circle cx="615.4" cy="967.6" r="10.1" fill="#da2a78" stroke="#fff" stroke-width="1.6"/>
<circle cx="434.4" cy="984.6" r="10.1" fill="#5156d2" stroke="#fff" stroke-width="1.6"/>
<circle cx="466.7" cy="984.6" r="10.1" fill="#5156d2" stroke="#fff" stroke-width="1.6"/>
<circle cx="499.0" cy="984.6" r="10.1" fill="#5156d2" stroke="#fff" stroke-width="1.6"/>
<circle cx="531.3" cy="984.6" r="10.1" fill="#da2a78" stroke="#fff" stroke-width="1.6"/>
<circle cx="563.7" cy="984.6" r="10.1" fill="#da2a78" stroke="#fff" stroke-width="1.6"/>
<circle cx="596.0" cy="984.6" r="10.1" fill="#da2a78" stroke="#fff" stroke-width="1.6"/>
<circle cx="628.3" cy="984.6" r="10.1" fill="#da2a78" stroke="#fff" stroke-width="1.6"/>
<circle cx="511.9" cy="1001.5" r="10.1" fill="#da2a78" stroke="#fff" stroke-width="1.6"/>
<circle cx="544.3" cy="1001.5" r="10.1" fill="#da2a78" stroke="#fff" stroke-width="1.6"/>
<circle cx="608.9" cy="1001.5" r="10.1" fill="#da2a78" stroke="#fff" stroke-width="1.6"/>
<circle cx="642.5" cy="1001.5" r="10.1" fill="#da2a78" stroke="#fff" stroke-width="1.6"/>
<circle cx="466.7" cy="1027.0" r="10.1" fill="#5156d2" stroke="#fff" stroke-width="1.6"/>
<circle cx="499.0" cy="1027.0" r="10.1" fill="#5156d2" stroke="#fff" stroke-width="1.6"/>
<circle cx="531.3" cy="1027.0" r="10.1" fill="#da2a78" stroke="#fff" stroke-width="1.6"/>
<circle cx="563.7" cy="1027.0" r="10.1" fill="#da2a78" stroke="#fff" stroke-width="1.6"/>
<circle cx="596.0" cy="1027.0" r="10.1" fill="#da2a78" stroke="#fff" stroke-width="1.6"/>
<circle cx="628.3" cy="1027.0" r="10.1" fill="#da2a78" stroke="#fff" stroke-width="1.6"/>
<circle cx="531.3" cy="1069.5" r="10.1" fill="#da2a78" stroke="#fff" stroke-width="1.6"/>
<circle cx="563.7" cy="1069.5" r="10.1" fill="#da2a78" stroke="#fff" stroke-width="1.6"/>
<circle cx="596.0" cy="1069.5" r="10.1" fill="#da2a78" stroke="#fff" stroke-width="1.6"/>
<circle cx="628.3" cy="1069.5" r="10.1" fill="#da2a78" stroke="#fff" stroke-width="1.6"/>
<circle cx="318.0" cy="1191.1" r="10.1" fill="#ee8530" stroke="#fff" stroke-width="1.6"/>
<circle cx="336.1" cy="1191.1" r="10.1" fill="#ee8530" stroke="#fff" stroke-width="1.6"/>
<circle cx="349.7" cy="1191.1" r="10.1" fill="#ee8530" stroke="#fff" stroke-width="1.6"/>
<circle cx="367.2" cy="1191.1" r="10.1" fill="#ee8530" stroke="#fff" stroke-width="1.6"/>
<circle cx="382.7" cy="1191.1" r="10.1" fill="#5156d2" stroke="#fff" stroke-width="1.6"/>
<circle cx="399.5" cy="1191.1" r="10.1" fill="#5156d2" stroke="#fff" stroke-width="1.6"/>
<circle cx="414.3" cy="1191.1" r="10.1" fill="#ee8530" stroke="#fff" stroke-width="1.6"/>
<circle cx="432.4" cy="1191.1" r="10.1" fill="#ee8530" stroke="#fff" stroke-width="1.6"/>
<circle cx="447.3" cy="1191.1" r="10.1" fill="#5156d2" stroke="#fff" stroke-width="1.6"/>
<circle cx="466.7" cy="1191.1" r="10.1" fill="#5156d2" stroke="#fff" stroke-width="1.6"/>
<circle cx="486.1" cy="1191.1" r="10.1" fill="#ee8530" stroke="#fff" stroke-width="1.6"/>
<circle cx="500.3" cy="1191.1" r="10.1" fill="#5156d2" stroke="#fff" stroke-width="1.6"/>
<circle cx="517.8" cy="1191.1" r="10.1" fill="#da2a78" stroke="#fff" stroke-width="1.6"/>
<circle cx="533.3" cy="1191.1" r="10.1" fill="#5156d2" stroke="#fff" stroke-width="1.6"/>
<circle cx="550.1" cy="1191.1" r="10.1" fill="#da2a78" stroke="#fff" stroke-width="1.6"/>
<circle cx="565.0" cy="1191.1" r="10.1" fill="#da2a78" stroke="#fff" stroke-width="1.6"/>
<circle cx="581.8" cy="1191.1" r="10.1" fill="#da2a78" stroke="#fff" stroke-width="1.6"/>
<circle cx="596.6" cy="1191.1" r="10.1" fill="#da2a78" stroke="#fff" stroke-width="1.6"/>
<circle cx="615.4" cy="1191.1" r="10.1" fill="#da2a78" stroke="#fff" stroke-width="1.6"/>
<circle cx="290.2" cy="1403.0" r="10.1" fill="#ee8530" stroke="#fff" stroke-width="1.6"/>
<circle cx="305.7" cy="1403.0" r="10.1" fill="#ee8530" stroke="#fff" stroke-width="1.6"/>
<circle cx="345.2" cy="1403.0" r="10.1" fill="#ee8530" stroke="#fff" stroke-width="1.6"/>
<circle cx="356.2" cy="1403.0" r="10.1" fill="#ee8530" stroke="#fff" stroke-width="1.6"/>
<circle cx="369.1" cy="1403.0" r="10.1" fill="#ee8530" stroke="#fff" stroke-width="1.6"/>
<circle cx="378.8" cy="1403.0" r="10.1" fill="#ee8530" stroke="#fff" stroke-width="1.6"/>
<circle cx="387.8" cy="1403.0" r="10.1" fill="#ee8530" stroke="#fff" stroke-width="1.6"/>
<circle cx="398.8" cy="1403.0" r="10.1" fill="#da2a78" stroke="#fff" stroke-width="1.6"/>
<circle cx="408.5" cy="1403.0" r="10.1" fill="#5156d2" stroke="#fff" stroke-width="1.6"/>
<circle cx="420.8" cy="1403.0" r="10.1" fill="#ee8530" stroke="#fff" stroke-width="1.6"/>
<circle cx="433.7" cy="1403.0" r="10.1" fill="#5156d2" stroke="#fff" stroke-width="1.6"/>
<circle cx="447.3" cy="1403.0" r="10.1" fill="#ee8530" stroke="#fff" stroke-width="1.6"/>
<circle cx="457.0" cy="1403.0" r="10.1" fill="#ee8530" stroke="#fff" stroke-width="1.6"/>
<circle cx="466.7" cy="1403.0" r="10.1" fill="#ee8530" stroke="#fff" stroke-width="1.6"/>
<circle cx="485.4" cy="1403.0" r="10.1" fill="#5156d2" stroke="#fff" stroke-width="1.6"/>
<circle cx="498.4" cy="1403.0" r="10.1" fill="#ee8530" stroke="#fff" stroke-width="1.6"/>
<circle cx="511.3" cy="1403.0" r="10.1" fill="#5156d2" stroke="#fff" stroke-width="1.6"/>
<circle cx="523.6" cy="1403.0" r="10.1" fill="#5156d2" stroke="#fff" stroke-width="1.6"/>
<circle cx="532.6" cy="1403.0" r="10.1" fill="#da2a78" stroke="#fff" stroke-width="1.6"/>
<circle cx="544.3" cy="1403.0" r="10.1" fill="#da2a78" stroke="#fff" stroke-width="1.6"/>
<circle cx="559.1" cy="1403.0" r="10.1" fill="#da2a78" stroke="#fff" stroke-width="1.6"/>
<circle cx="575.3" cy="1403.0" r="10.1" fill="#da2a78" stroke="#fff" stroke-width="1.6"/>
<circle cx="590.8" cy="1403.0" r="10.1" fill="#da2a78" stroke="#fff" stroke-width="1.6"/>
<circle cx="608.9" cy="1403.0" r="10.1" fill="#da2a78" stroke="#fff" stroke-width="1.6"/>
<circle cx="628.3" cy="1403.0" r="10.1" fill="#da2a78" stroke="#fff" stroke-width="1.6"/>
<circle cx="302.5" cy="1544.2" r="10.1" fill="#ee8530" stroke="#fff" stroke-width="1.6"/>
<circle cx="318.0" cy="1544.2" r="10.1" fill="#ee8530" stroke="#fff" stroke-width="1.6"/>
<circle cx="335.5" cy="1544.2" r="10.1" fill="#ee8530" stroke="#fff" stroke-width="1.6"/>
<circle cx="350.3" cy="1544.2" r="10.1" fill="#ee8530" stroke="#fff" stroke-width="1.6"/>
<circle cx="368.4" cy="1544.2" r="10.1" fill="#5156d2" stroke="#fff" stroke-width="1.6"/>
<circle cx="382.0" cy="1544.2" r="10.1" fill="#ee8530" stroke="#fff" stroke-width="1.6"/>
<circle cx="398.8" cy="1544.2" r="10.1" fill="#ee8530" stroke="#fff" stroke-width="1.6"/>
<circle cx="414.3" cy="1544.2" r="10.1" fill="#5156d2" stroke="#fff" stroke-width="1.6"/>
<circle cx="432.4" cy="1544.2" r="10.1" fill="#ee8530" stroke="#fff" stroke-width="1.6"/>
<circle cx="447.3" cy="1544.2" r="10.1" fill="#5156d2" stroke="#fff" stroke-width="1.6"/>
<circle cx="466.7" cy="1544.2" r="10.1" fill="#ee8530" stroke="#fff" stroke-width="1.6"/>
<circle cx="486.1" cy="1544.2" r="10.1" fill="#5156d2" stroke="#fff" stroke-width="1.6"/>
<circle cx="499.7" cy="1544.2" r="10.1" fill="#5156d2" stroke="#fff" stroke-width="1.6"/>
<circle cx="517.8" cy="1544.2" r="10.1" fill="#da2a78" stroke="#fff" stroke-width="1.6"/>
<circle cx="532.6" cy="1544.2" r="10.1" fill="#da2a78" stroke="#fff" stroke-width="1.6"/>
<circle cx="550.1" cy="1544.2" r="10.1" fill="#da2a78" stroke="#fff" stroke-width="1.6"/>
<circle cx="563.7" cy="1544.2" r="10.1" fill="#da2a78" stroke="#fff" stroke-width="1.6"/>
<circle cx="582.4" cy="1544.2" r="10.1" fill="#da2a78" stroke="#fff" stroke-width="1.6"/>
<circle cx="614.1" cy="1544.2" r="10.1" fill="#da2a78" stroke="#fff" stroke-width="1.6"/>
<circle cx="630.2" cy="1544.2" r="10.1" fill="#da2a78" stroke="#fff" stroke-width="1.6"/>
<circle cx="292.2" cy="1614.9" r="10.1" fill="#ee8530" stroke="#fff" stroke-width="1.6"/>
<circle cx="323.8" cy="1614.9" r="10.1" fill="#ee8530" stroke="#fff" stroke-width="1.6"/>
<circle cx="356.2" cy="1614.9" r="10.1" fill="#ee8530" stroke="#fff" stroke-width="1.6"/>
<circle cx="389.1" cy="1614.9" r="10.1" fill="#ee8530" stroke="#fff" stroke-width="1.6"/>
<circle cx="420.8" cy="1614.9" r="10.1" fill="#ee8530" stroke="#fff" stroke-width="1.6"/>
<circle cx="511.3" cy="1614.9" r="10.1" fill="#5156d2" stroke="#fff" stroke-width="1.6"/>
<circle cx="544.3" cy="1614.9" r="10.1" fill="#da2a78" stroke="#fff" stroke-width="1.6"/>
<circle cx="576.6" cy="1614.9" r="10.1" fill="#da2a78" stroke="#fff" stroke-width="1.6"/>
<circle cx="608.9" cy="1614.9" r="10.1" fill="#da2a78" stroke="#fff" stroke-width="1.6"/>
<circle cx="641.2" cy="1614.9" r="10.1" fill="#da2a78" stroke="#fff" stroke-width="1.6"/>
<circle cx="828.0" cy="1191.1" r="10.1" fill="#da2a78" stroke="#fff" stroke-width="1.6"/>
<circle cx="862.6" cy="1191.1" r="10.1" fill="#da2a78" stroke="#fff" stroke-width="1.6"/>
<circle cx="893.8" cy="1191.1" r="10.1" fill="#da2a78" stroke="#fff" stroke-width="1.6"/>
<circle cx="909.4" cy="1191.1" r="10.1" fill="#da2a78" stroke="#fff" stroke-width="1.6"/>
<circle cx="928.3" cy="1191.1" r="10.1" fill="#da2a78" stroke="#fff" stroke-width="1.6"/>
<circle cx="943.3" cy="1191.1" r="10.1" fill="#da2a78" stroke="#fff" stroke-width="1.6"/>
<circle cx="962.9" cy="1191.1" r="10.1" fill="#da2a78" stroke="#fff" stroke-width="1.6"/>
<circle cx="977.8" cy="1191.1" r="10.1" fill="#da2a78" stroke="#fff" stroke-width="1.6"/>
<circle cx="997.5" cy="1191.1" r="10.1" fill="#da2a78" stroke="#fff" stroke-width="1.6"/>
<circle cx="1016.5" cy="1191.1" r="10.1" fill="#da2a78" stroke="#fff" stroke-width="1.6"/>
<circle cx="1032.1" cy="1191.1" r="10.1" fill="#5156d2" stroke="#fff" stroke-width="1.6"/>
<circle cx="1050.4" cy="1191.1" r="10.1" fill="#ee8530" stroke="#fff" stroke-width="1.6"/>
<circle cx="1066.7" cy="1191.1" r="10.1" fill="#ee8530" stroke="#fff" stroke-width="1.6"/>
<circle cx="1085.0" cy="1191.1" r="10.1" fill="#ee8530" stroke="#fff" stroke-width="1.6"/>
<circle cx="1099.9" cy="1191.1" r="10.1" fill="#ee8530" stroke="#fff" stroke-width="1.6"/>
<circle cx="1132.4" cy="1191.1" r="10.1" fill="#ee8530" stroke="#fff" stroke-width="1.6"/>
<circle cx="1166.3" cy="1191.1" r="10.1" fill="#ee8530" stroke="#fff" stroke-width="1.6"/>
<circle cx="828.0" cy="1403.0" r="10.1" fill="#da2a78" stroke="#fff" stroke-width="1.6"/>
<circle cx="861.2" cy="1403.0" r="10.1" fill="#da2a78" stroke="#fff" stroke-width="1.6"/>
<circle cx="880.9" cy="1403.0" r="10.1" fill="#da2a78" stroke="#fff" stroke-width="1.6"/>
<circle cx="895.1" cy="1403.0" r="10.1" fill="#da2a78" stroke="#fff" stroke-width="1.6"/>
<circle cx="914.8" cy="1403.0" r="10.1" fill="#da2a78" stroke="#fff" stroke-width="1.6"/>
<circle cx="928.3" cy="1403.0" r="10.1" fill="#da2a78" stroke="#fff" stroke-width="1.6"/>
<circle cx="948.7" cy="1403.0" r="10.1" fill="#da2a78" stroke="#fff" stroke-width="1.6"/>
<circle cx="962.2" cy="1403.0" r="10.1" fill="#da2a78" stroke="#fff" stroke-width="1.6"/>
<circle cx="977.2" cy="1403.0" r="10.1" fill="#da2a78" stroke="#fff" stroke-width="1.6"/>
<circle cx="997.5" cy="1403.0" r="10.1" fill="#da2a78" stroke="#fff" stroke-width="1.6"/>
<circle cx="1016.5" cy="1403.0" r="10.1" fill="#da2a78" stroke="#fff" stroke-width="1.6"/>
<circle cx="1029.4" cy="1403.0" r="10.1" fill="#da2a78" stroke="#fff" stroke-width="1.6"/>
<circle cx="1044.3" cy="1403.0" r="10.1" fill="#5156d2" stroke="#fff" stroke-width="1.6"/>
<circle cx="1055.1" cy="1403.0" r="10.1" fill="#5156d2" stroke="#fff" stroke-width="1.6"/>
<circle cx="1066.0" cy="1403.0" r="10.1" fill="#ee8530" stroke="#fff" stroke-width="1.6"/>
<circle cx="1076.8" cy="1403.0" r="10.1" fill="#ee8530" stroke="#fff" stroke-width="1.6"/>
<circle cx="1089.7" cy="1403.0" r="10.1" fill="#5156d2" stroke="#fff" stroke-width="1.6"/>
<circle cx="1098.5" cy="1403.0" r="10.1" fill="#ee8530" stroke="#fff" stroke-width="1.6"/>
<circle cx="1111.4" cy="1403.0" r="10.1" fill="#ee8530" stroke="#fff" stroke-width="1.6"/>
<circle cx="1132.4" cy="1403.0" r="10.1" fill="#ee8530" stroke="#fff" stroke-width="1.6"/>
<circle cx="1166.3" cy="1403.0" r="10.1" fill="#ee8530" stroke="#fff" stroke-width="1.6"/>
<circle cx="828.0" cy="1544.2" r="10.1" fill="#da2a78" stroke="#fff" stroke-width="1.6"/>
<circle cx="861.2" cy="1544.2" r="10.1" fill="#da2a78" stroke="#fff" stroke-width="1.6"/>
<circle cx="893.8" cy="1544.2" r="10.1" fill="#da2a78" stroke="#fff" stroke-width="1.6"/>
<circle cx="908.7" cy="1544.2" r="10.1" fill="#da2a78" stroke="#fff" stroke-width="1.6"/>
<circle cx="927.7" cy="1544.2" r="10.1" fill="#da2a78" stroke="#fff" stroke-width="1.6"/>
<circle cx="942.6" cy="1544.2" r="10.1" fill="#da2a78" stroke="#fff" stroke-width="1.6"/>
<circle cx="962.2" cy="1544.2" r="10.1" fill="#da2a78" stroke="#fff" stroke-width="1.6"/>
<circle cx="977.2" cy="1544.2" r="10.1" fill="#da2a78" stroke="#fff" stroke-width="1.6"/>
<circle cx="997.5" cy="1544.2" r="10.1" fill="#da2a78" stroke="#fff" stroke-width="1.6"/>
<circle cx="1016.5" cy="1544.2" r="10.1" fill="#da2a78" stroke="#fff" stroke-width="1.6"/>
<circle cx="1032.1" cy="1544.2" r="10.1" fill="#5156d2" stroke="#fff" stroke-width="1.6"/>
<circle cx="1051.1" cy="1544.2" r="10.1" fill="#da2a78" stroke="#fff" stroke-width="1.6"/>
<circle cx="1066.7" cy="1544.2" r="10.1" fill="#5156d2" stroke="#fff" stroke-width="1.6"/>
<circle cx="1084.3" cy="1544.2" r="10.1" fill="#ee8530" stroke="#fff" stroke-width="1.6"/>
<circle cx="1100.6" cy="1544.2" r="10.1" fill="#ee8530" stroke="#fff" stroke-width="1.6"/>
<circle cx="1132.4" cy="1544.2" r="10.1" fill="#ee8530" stroke="#fff" stroke-width="1.6"/>
<circle cx="1167.0" cy="1544.2" r="10.1" fill="#ee8530" stroke="#fff" stroke-width="1.6"/>
<circle cx="882.2" cy="1614.9" r="10.1" fill="#da2a78" stroke="#fff" stroke-width="1.6"/>
<circle cx="915.5" cy="1614.9" r="10.1" fill="#da2a78" stroke="#fff" stroke-width="1.6"/>
<circle cx="949.4" cy="1614.9" r="10.1" fill="#da2a78" stroke="#fff" stroke-width="1.6"/>
<circle cx="997.5" cy="1614.9" r="10.1" fill="#da2a78" stroke="#fff" stroke-width="1.6"/>
<circle cx="1044.3" cy="1614.9" r="10.1" fill="#5156d2" stroke="#fff" stroke-width="1.6"/>
<circle cx="1077.5" cy="1614.9" r="10.1" fill="#ee8530" stroke="#fff" stroke-width="1.6"/>
<circle cx="1112.1" cy="1614.9" r="10.1" fill="#ee8530" stroke="#fff" stroke-width="1.6"/>
<line x1="216.5" y1="566" x2="714" y2="566" stroke="#555555" stroke-width="4.0" stroke-linecap="butt"/>
<line x1="216.5" y1="1111" x2="714" y2="1111" stroke="#555555" stroke-width="4.0" stroke-linecap="butt"/>
<line x1="216.5" y1="1658.5" x2="714" y2="1658.5" stroke="#555555" stroke-width="4.0" stroke-linecap="butt"/>
<line x1="747.5" y1="1111" x2="1244.5" y2="1111" stroke="#555555" stroke-width="4.0" stroke-linecap="butt"/>
<line x1="747.5" y1="1658.5" x2="1244.5" y2="1658.5" stroke="#555555" stroke-width="4.0" stroke-linecap="butt"/>
<line x1="1280.5" y1="1658.5" x2="1777" y2="1658.5" stroke="#555555" stroke-width="4.0" stroke-linecap="butt"/>
<line x1="218" y1="602" x2="218" y2="1112.5" stroke="#555555" stroke-width="4.0"/>
<line x1="218" y1="1147" x2="218" y2="1660.0" stroke="#555555" stroke-width="4.0"/>
<line x1="749" y1="1147" x2="749" y2="1660.0" stroke="#555555" stroke-width="4.0"/>
<line x1="305.1" y1="566" x2="305.1" y2="578.5" stroke="#555555" stroke-width="3.6"/>
<line x1="466.7" y1="566" x2="466.7" y2="578.5" stroke="#555555" stroke-width="3.6"/>
<line x1="628.3" y1="566" x2="628.3" y2="578.5" stroke="#555555" stroke-width="3.6"/>
<line x1="305.1" y1="1111" x2="305.1" y2="1123.5" stroke="#555555" stroke-width="3.6"/>
<line x1="466.7" y1="1111" x2="466.7" y2="1123.5" stroke="#555555" stroke-width="3.6"/>
<line x1="628.3" y1="1111" x2="628.3" y2="1123.5" stroke="#555555" stroke-width="3.6"/>
<line x1="305.1" y1="1658.5" x2="305.1" y2="1671.0" stroke="#555555" stroke-width="3.6"/>
<line x1="466.7" y1="1658.5" x2="466.7" y2="1671.0" stroke="#555555" stroke-width="3.6"/>
<line x1="628.3" y1="1658.5" x2="628.3" y2="1671.0" stroke="#555555" stroke-width="3.6"/>
<line x1="828.0" y1="1111" x2="828.0" y2="1123.5" stroke="#555555" stroke-width="3.6"/>
<line x1="997.5" y1="1111" x2="997.5" y2="1123.5" stroke="#555555" stroke-width="3.6"/>
<line x1="1167.0" y1="1111" x2="1167.0" y2="1123.5" stroke="#555555" stroke-width="3.6"/>
<line x1="828.0" y1="1658.5" x2="828.0" y2="1671.0" stroke="#555555" stroke-width="3.6"/>
<line x1="997.5" y1="1658.5" x2="997.5" y2="1671.0" stroke="#555555" stroke-width="3.6"/>
<line x1="1167.0" y1="1658.5" x2="1167.0" y2="1671.0" stroke="#555555" stroke-width="3.6"/>
<line x1="1390.4" y1="1658.5" x2="1390.4" y2="1671.0" stroke="#555555" stroke-width="3.6"/>
<line x1="1529.3" y1="1658.5" x2="1529.3" y2="1671.0" stroke="#555555" stroke-width="3.6"/>
<line x1="1668.2" y1="1658.5" x2="1668.2" y2="1671.0" stroke="#555555" stroke-width="3.6"/>
<line x1="205.5" y1="687.4" x2="218" y2="687.4" stroke="#555555" stroke-width="3.6"/>
<line x1="205.5" y1="857.2" x2="218" y2="857.2" stroke="#555555" stroke-width="3.6"/>
<line x1="205.5" y1="1027.0" x2="218" y2="1027.0" stroke="#555555" stroke-width="3.6"/>
<line x1="205.5" y1="1233.5" x2="218" y2="1233.5" stroke="#555555" stroke-width="3.6"/>
<line x1="205.5" y1="1403.0" x2="218" y2="1403.0" stroke="#555555" stroke-width="3.6"/>
<line x1="205.5" y1="1572.5" x2="218" y2="1572.5" stroke="#555555" stroke-width="3.6"/>
<line x1="736.5" y1="1233.5" x2="749" y2="1233.5" stroke="#555555" stroke-width="3.6"/>
<line x1="736.5" y1="1403.0" x2="749" y2="1403.0" stroke="#555555" stroke-width="3.6"/>
<line x1="736.5" y1="1572.5" x2="749" y2="1572.5" stroke="#555555" stroke-width="3.6"/>
<line x1="255" y1="566" x2="533" y2="566" stroke="#ee8530" stroke-width="2.6" stroke-opacity="0.8"/>
<line x1="405" y1="566" x2="676" y2="566" stroke="#da2a78" stroke-width="2.6" stroke-opacity="0.8"/>
<line x1="339" y1="566" x2="588" y2="566" stroke="#5156d2" stroke-width="2.6" stroke-opacity="0.8"/>
<line x1="912" y1="1111" x2="1205" y2="1111" stroke="#ee8530" stroke-width="2.6" stroke-opacity="0.8"/>
<line x1="771" y1="1111" x2="1082" y2="1111" stroke="#da2a78" stroke-width="2.6" stroke-opacity="0.8"/>
<line x1="819" y1="1111" x2="1166" y2="1111" stroke="#5156d2" stroke-width="2.6" stroke-opacity="0.8"/>
<line x1="1328" y1="1658.5" x2="1738" y2="1658.5" stroke="#ee8530" stroke-width="2.6" stroke-opacity="0.8"/>
<line x1="1326" y1="1658.5" x2="1738" y2="1658.5" stroke="#da2a78" stroke-width="2.6" stroke-opacity="0.8"/>
<line x1="1334" y1="1658.5" x2="1740" y2="1658.5" stroke="#5156d2" stroke-width="2.6" stroke-opacity="0.8"/>
<text transform="translate(305.1,1718.5) scale(1,1.04)" text-anchor="middle" >−25</text>
<text transform="translate(466.7,1718.5) scale(1,1.04)" text-anchor="middle" >0</text>
<text transform="translate(628.3,1718.5) scale(1,1.04)" text-anchor="middle" >25</text>
<text transform="translate(828.0,1718.5) scale(1,1.04)" text-anchor="middle" >−25</text>
<text transform="translate(997.5,1718.5) scale(1,1.04)" text-anchor="middle" >0</text>
<text transform="translate(1167.0,1718.5) scale(1,1.04)" text-anchor="middle" >25</text>
<text transform="translate(1390.4,1718.5) scale(1,1.04)" text-anchor="middle" >0.75</text>
<text transform="translate(1529.3,1718.5) scale(1,1.04)" text-anchor="middle" >1.00</text>
<text transform="translate(1668.2,1718.5) scale(1,1.04)" text-anchor="middle" >1.25</text>
<text transform="translate(195.0,706.4) scale(1,1.04)" text-anchor="end" >20</text>
<text transform="translate(195.0,876.2) scale(1,1.04)" text-anchor="end" >0</text>
<text transform="translate(195.0,1046.0) scale(1,1.04)" text-anchor="end" >−20</text>
<text transform="translate(195.0,1252.5) scale(1,1.04)" text-anchor="end" >1.2</text>
<text transform="translate(195.0,1422.0) scale(1,1.04)" text-anchor="end" >1.0</text>
<text transform="translate(195.0,1591.5) scale(1,1.04)" text-anchor="end" >0.8</text>
<text transform="translate(466.5,1777.2) scale(1,1.04)" text-anchor="middle" >Relative Bearing(<tspan style="font-family:'DejaVu Serif',serif;font-style:italic" dx="1.5">ψ</tspan><tspan style="font-family:'DejaVu Serif',serif;font-style:italic;font-size:37px" dy="7" dx="1">r</tspan><tspan dy="-7" dx="3.5">)</tspan></text>
<text transform="translate(996.0,1777.2) scale(1,1.04)" text-anchor="middle" >Aspect</text>
<text transform="translate(1530.0,1777.2) scale(1,1.04)" text-anchor="middle" >Speed rate(<tspan style="font-family:'DejaVu Serif',serif;font-style:italic" dx="1">K</tspan><tspan dx="3">)</tspan></text>
<text transform="translate(84.5,856.5) rotate(-90) scale(1,1.04)" text-anchor="middle">Aspect</text>
<text transform="translate(98,1403.7) rotate(-90) scale(1,1.04)" text-anchor="middle">Speed rate(<tspan style="font-family:'DejaVu Serif',serif;font-style:italic" dx="1">K</tspan><tspan dx="3">)</tspan></text>
<text transform="translate(1901.5,830.0) scale(1,1.04)" text-anchor="middle" >Y</text>
<circle cx="1867.5" cy="887.8" r="11.3" fill="#5156d2"/>
<text transform="translate(1972.5,900.8) scale(1,1.04)" text-anchor="middle" >0</text>
<circle cx="1867.5" cy="958.8" r="11.3" fill="#da2a78"/>
<text transform="translate(1972.5,971.8) scale(1,1.04)" text-anchor="middle" >1</text>
<circle cx="1867.5" cy="1030" r="11.3" fill="#ee8530"/>
<text transform="translate(1972.5,1043.0) scale(1,1.04)" text-anchor="middle" >2</text>
</svg>
</body></html>
